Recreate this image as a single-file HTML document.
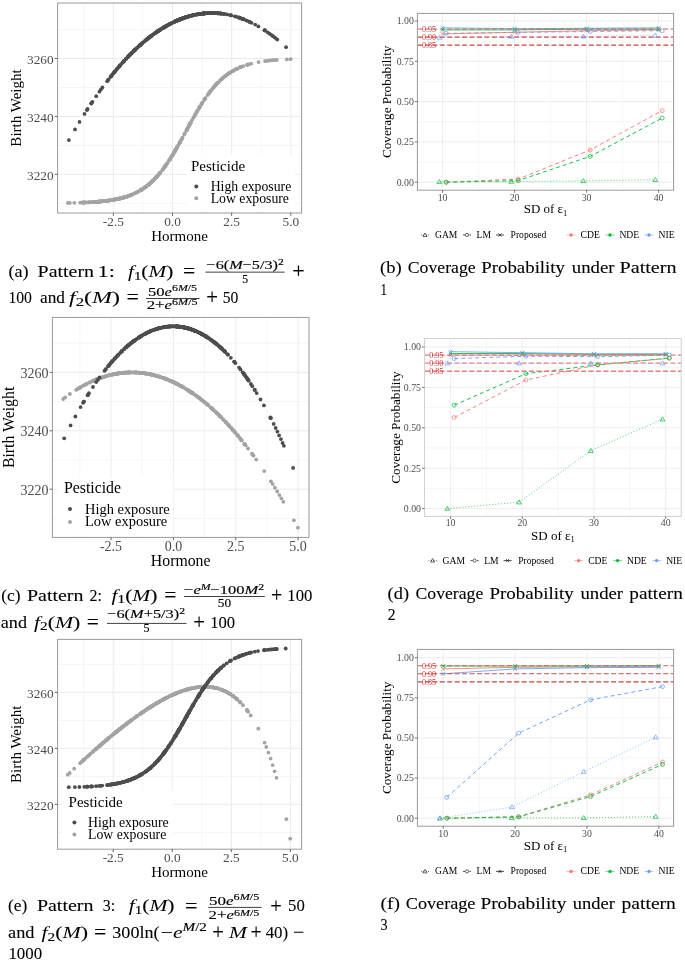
<!DOCTYPE html>
<html><head><meta charset="utf-8"><title>Figure</title><style>html,body{margin:0;padding:0;background:#fff;}svg{display:block;}</style></head><body>
<svg width="685" height="960" viewBox="0 0 685 960" font-family="'Liberation Serif', 'DejaVu Serif', serif">
<rect width="685" height="960" fill="#fff"/>
<g>
<line x1="83.78" y1="3" x2="83.78" y2="213" stroke="#f2f2f2" stroke-width="0.8"/>
<line x1="142.93" y1="3" x2="142.93" y2="213" stroke="#f2f2f2" stroke-width="0.8"/>
<line x1="202.07" y1="3" x2="202.07" y2="213" stroke="#f2f2f2" stroke-width="0.8"/>
<line x1="261.23" y1="3" x2="261.23" y2="213" stroke="#f2f2f2" stroke-width="0.8"/>
<line x1="57.6" y1="203.3" x2="301.6" y2="203.3" stroke="#f2f2f2" stroke-width="0.8"/>
<line x1="57.6" y1="145.38" x2="301.6" y2="145.38" stroke="#f2f2f2" stroke-width="0.8"/>
<line x1="57.6" y1="87.46" x2="301.6" y2="87.46" stroke="#f2f2f2" stroke-width="0.8"/>
<line x1="57.6" y1="29.54" x2="301.6" y2="29.54" stroke="#f2f2f2" stroke-width="0.8"/>
<line x1="113.35" y1="3" x2="113.35" y2="213" stroke="#ebebeb" stroke-width="1"/>
<line x1="172.5" y1="3" x2="172.5" y2="213" stroke="#ebebeb" stroke-width="1"/>
<line x1="231.65" y1="3" x2="231.65" y2="213" stroke="#ebebeb" stroke-width="1"/>
<line x1="290.8" y1="3" x2="290.8" y2="213" stroke="#ebebeb" stroke-width="1"/>
<line x1="57.6" y1="174.34" x2="301.6" y2="174.34" stroke="#ebebeb" stroke-width="1"/>
<line x1="57.6" y1="116.42" x2="301.6" y2="116.42" stroke="#ebebeb" stroke-width="1"/>
<line x1="57.6" y1="58.5" x2="301.6" y2="58.5" stroke="#ebebeb" stroke-width="1"/>
<rect x="187" y="155" width="108" height="56" fill="#fff"/>
<g fill="#a3a3a3"><circle cx="67.9" cy="202.9" r="1.9"/><circle cx="69.8" cy="202.9" r="1.9"/><circle cx="74.3" cy="202.8" r="1.9"/><circle cx="202.3" cy="102.8" r="1.9"/><circle cx="210.2" cy="91.5" r="1.9"/><circle cx="168.7" cy="161.1" r="1.9"/><circle cx="243.3" cy="66.1" r="1.9"/><circle cx="127.4" cy="196.3" r="1.9"/><circle cx="181.7" cy="139.1" r="1.9"/><circle cx="96.7" cy="201.8" r="1.9"/><circle cx="169.7" cy="159.6" r="1.9"/><circle cx="150.1" cy="183.3" r="1.9"/><circle cx="131.7" cy="194.7" r="1.9"/><circle cx="248.0" cy="64.5" r="1.9"/><circle cx="149.4" cy="183.9" r="1.9"/><circle cx="140.3" cy="190.4" r="1.9"/><circle cx="109.0" cy="200.5" r="1.9"/><circle cx="106.4" cy="200.8" r="1.9"/><circle cx="247.2" cy="64.8" r="1.9"/><circle cx="172.7" cy="154.8" r="1.9"/><circle cx="221.7" cy="79.0" r="1.9"/><circle cx="83.8" cy="202.5" r="1.9"/><circle cx="175.4" cy="150.2" r="1.9"/><circle cx="152.4" cy="181.2" r="1.9"/><circle cx="146.4" cy="186.3" r="1.9"/><circle cx="190.0" cy="123.9" r="1.9"/><circle cx="95.8" cy="201.8" r="1.9"/><circle cx="127.3" cy="196.4" r="1.9"/><circle cx="128.7" cy="195.8" r="1.9"/><circle cx="156.0" cy="177.5" r="1.9"/><circle cx="140.8" cy="190.1" r="1.9"/><circle cx="199.8" cy="106.8" r="1.9"/><circle cx="159.1" cy="174.0" r="1.9"/><circle cx="201.2" cy="104.6" r="1.9"/><circle cx="108.9" cy="200.5" r="1.9"/><circle cx="172.7" cy="154.8" r="1.9"/><circle cx="190.0" cy="123.9" r="1.9"/><circle cx="186.7" cy="129.9" r="1.9"/><circle cx="89.8" cy="202.2" r="1.9"/><circle cx="118.0" cy="198.9" r="1.9"/><circle cx="176.6" cy="148.1" r="1.9"/><circle cx="132.1" cy="194.5" r="1.9"/><circle cx="156.4" cy="177.1" r="1.9"/><circle cx="222.2" cy="78.6" r="1.9"/><circle cx="215.6" cy="85.0" r="1.9"/><circle cx="80.2" cy="202.6" r="1.9"/><circle cx="164.3" cy="167.3" r="1.9"/><circle cx="230.5" cy="72.3" r="1.9"/><circle cx="143.2" cy="188.6" r="1.9"/><circle cx="159.0" cy="174.1" r="1.9"/><circle cx="145.9" cy="186.7" r="1.9"/><circle cx="205.2" cy="98.5" r="1.9"/><circle cx="154.9" cy="178.7" r="1.9"/><circle cx="224.5" cy="76.6" r="1.9"/><circle cx="120.3" cy="198.3" r="1.9"/><circle cx="151.6" cy="181.9" r="1.9"/><circle cx="152.2" cy="181.3" r="1.9"/><circle cx="179.7" cy="142.7" r="1.9"/><circle cx="162.5" cy="169.8" r="1.9"/><circle cx="130.0" cy="195.4" r="1.9"/><circle cx="214.6" cy="86.2" r="1.9"/><circle cx="164.1" cy="167.7" r="1.9"/><circle cx="125.9" cy="196.8" r="1.9"/><circle cx="215.4" cy="85.3" r="1.9"/><circle cx="248.4" cy="64.4" r="1.9"/><circle cx="87.0" cy="202.4" r="1.9"/><circle cx="121.6" cy="198.0" r="1.9"/><circle cx="169.8" cy="159.4" r="1.9"/><circle cx="146.5" cy="186.2" r="1.9"/><circle cx="217.3" cy="83.3" r="1.9"/><circle cx="152.6" cy="181.0" r="1.9"/><circle cx="163.1" cy="169.0" r="1.9"/><circle cx="160.3" cy="172.6" r="1.9"/><circle cx="216.9" cy="83.6" r="1.9"/><circle cx="154.6" cy="179.0" r="1.9"/><circle cx="173.5" cy="153.3" r="1.9"/><circle cx="100.8" cy="201.4" r="1.9"/><circle cx="197.6" cy="110.5" r="1.9"/><circle cx="99.3" cy="201.6" r="1.9"/><circle cx="85.1" cy="202.4" r="1.9"/><circle cx="181.4" cy="139.6" r="1.9"/><circle cx="103.2" cy="201.2" r="1.9"/><circle cx="186.8" cy="129.7" r="1.9"/><circle cx="141.9" cy="189.5" r="1.9"/><circle cx="213.9" cy="87.0" r="1.9"/><circle cx="99.8" cy="201.5" r="1.9"/><circle cx="119.6" cy="198.5" r="1.9"/><circle cx="159.9" cy="173.0" r="1.9"/><circle cx="204.3" cy="99.8" r="1.9"/><circle cx="96.3" cy="201.8" r="1.9"/><circle cx="247.2" cy="64.8" r="1.9"/><circle cx="174.2" cy="152.2" r="1.9"/><circle cx="150.8" cy="182.6" r="1.9"/><circle cx="179.5" cy="143.0" r="1.9"/><circle cx="237.1" cy="68.7" r="1.9"/><circle cx="123.4" cy="197.5" r="1.9"/><circle cx="114.9" cy="199.5" r="1.9"/><circle cx="137.3" cy="192.1" r="1.9"/><circle cx="95.3" cy="201.9" r="1.9"/><circle cx="135.0" cy="193.2" r="1.9"/><circle cx="164.7" cy="166.9" r="1.9"/><circle cx="116.3" cy="199.2" r="1.9"/><circle cx="236.9" cy="68.8" r="1.9"/><circle cx="220.2" cy="80.4" r="1.9"/><circle cx="139.7" cy="190.8" r="1.9"/><circle cx="231.3" cy="71.8" r="1.9"/><circle cx="110.7" cy="200.2" r="1.9"/><circle cx="140.8" cy="190.1" r="1.9"/><circle cx="210.1" cy="91.7" r="1.9"/><circle cx="195.0" cy="115.0" r="1.9"/><circle cx="99.6" cy="201.5" r="1.9"/><circle cx="117.5" cy="199.0" r="1.9"/><circle cx="170.1" cy="158.9" r="1.9"/><circle cx="212.6" cy="88.5" r="1.9"/><circle cx="160.5" cy="172.3" r="1.9"/><circle cx="176.1" cy="149.0" r="1.9"/><circle cx="84.4" cy="202.5" r="1.9"/><circle cx="123.5" cy="197.5" r="1.9"/><circle cx="176.7" cy="147.9" r="1.9"/><circle cx="108.5" cy="200.5" r="1.9"/><circle cx="106.3" cy="200.8" r="1.9"/><circle cx="105.5" cy="200.9" r="1.9"/><circle cx="182.5" cy="137.7" r="1.9"/><circle cx="251.1" cy="63.7" r="1.9"/><circle cx="190.4" cy="123.2" r="1.9"/><circle cx="120.2" cy="198.4" r="1.9"/><circle cx="188.0" cy="127.5" r="1.9"/><circle cx="169.3" cy="160.0" r="1.9"/><circle cx="103.6" cy="201.1" r="1.9"/><circle cx="131.4" cy="194.8" r="1.9"/><circle cx="100.8" cy="201.4" r="1.9"/><circle cx="126.1" cy="196.7" r="1.9"/><circle cx="142.4" cy="189.1" r="1.9"/><circle cx="148.0" cy="185.1" r="1.9"/><circle cx="92.7" cy="202.0" r="1.9"/><circle cx="136.9" cy="192.3" r="1.9"/><circle cx="122.2" cy="197.9" r="1.9"/><circle cx="116.6" cy="199.2" r="1.9"/><circle cx="115.0" cy="199.5" r="1.9"/><circle cx="190.2" cy="123.6" r="1.9"/><circle cx="158.0" cy="175.3" r="1.9"/><circle cx="163.4" cy="168.6" r="1.9"/><circle cx="103.9" cy="201.1" r="1.9"/><circle cx="129.5" cy="195.6" r="1.9"/><circle cx="90.6" cy="202.2" r="1.9"/><circle cx="112.9" cy="199.9" r="1.9"/><circle cx="136.2" cy="192.7" r="1.9"/><circle cx="142.7" cy="188.9" r="1.9"/><circle cx="165.7" cy="165.4" r="1.9"/><circle cx="207.6" cy="95.0" r="1.9"/><circle cx="83.3" cy="202.5" r="1.9"/><circle cx="83.8" cy="202.5" r="1.9"/><circle cx="174.8" cy="151.2" r="1.9"/><circle cx="140.7" cy="190.2" r="1.9"/><circle cx="196.8" cy="111.8" r="1.9"/><circle cx="157.6" cy="175.8" r="1.9"/><circle cx="123.8" cy="197.4" r="1.9"/><circle cx="193.6" cy="117.4" r="1.9"/><circle cx="100.7" cy="201.4" r="1.9"/><circle cx="156.0" cy="177.5" r="1.9"/><circle cx="217.3" cy="83.2" r="1.9"/><circle cx="233.0" cy="70.8" r="1.9"/><circle cx="123.8" cy="197.4" r="1.9"/><circle cx="175.3" cy="150.4" r="1.9"/><circle cx="153.1" cy="180.5" r="1.9"/><circle cx="201.6" cy="103.9" r="1.9"/><circle cx="118.7" cy="198.7" r="1.9"/><circle cx="192.3" cy="119.7" r="1.9"/><circle cx="167.3" cy="163.1" r="1.9"/><circle cx="208.7" cy="93.6" r="1.9"/><circle cx="141.1" cy="189.9" r="1.9"/><circle cx="202.4" cy="102.7" r="1.9"/><circle cx="129.5" cy="195.6" r="1.9"/><circle cx="208.9" cy="93.2" r="1.9"/><circle cx="204.4" cy="99.6" r="1.9"/><circle cx="122.5" cy="197.8" r="1.9"/><circle cx="171.8" cy="156.1" r="1.9"/><circle cx="237.3" cy="68.6" r="1.9"/><circle cx="186.7" cy="130.0" r="1.9"/><circle cx="113.5" cy="199.7" r="1.9"/><circle cx="103.8" cy="201.1" r="1.9"/><circle cx="126.0" cy="196.8" r="1.9"/><circle cx="225.1" cy="76.2" r="1.9"/><circle cx="197.5" cy="110.6" r="1.9"/><circle cx="217.0" cy="83.6" r="1.9"/><circle cx="199.1" cy="108.0" r="1.9"/><circle cx="165.0" cy="166.5" r="1.9"/><circle cx="223.2" cy="77.7" r="1.9"/><circle cx="141.9" cy="189.4" r="1.9"/><circle cx="132.0" cy="194.6" r="1.9"/><circle cx="177.2" cy="147.0" r="1.9"/><circle cx="157.3" cy="176.1" r="1.9"/><circle cx="186.4" cy="130.5" r="1.9"/><circle cx="227.7" cy="74.2" r="1.9"/><circle cx="116.4" cy="199.2" r="1.9"/><circle cx="172.8" cy="154.5" r="1.9"/><circle cx="165.5" cy="165.7" r="1.9"/><circle cx="124.7" cy="197.2" r="1.9"/><circle cx="171.3" cy="157.0" r="1.9"/><circle cx="228.9" cy="73.4" r="1.9"/><circle cx="230.3" cy="72.5" r="1.9"/><circle cx="189.6" cy="124.6" r="1.9"/><circle cx="166.9" cy="163.8" r="1.9"/><circle cx="99.5" cy="201.5" r="1.9"/><circle cx="130.8" cy="195.0" r="1.9"/><circle cx="143.2" cy="188.6" r="1.9"/><circle cx="153.5" cy="180.1" r="1.9"/><circle cx="145.2" cy="187.2" r="1.9"/><circle cx="102.6" cy="201.2" r="1.9"/><circle cx="187.1" cy="129.2" r="1.9"/><circle cx="172.2" cy="155.6" r="1.9"/><circle cx="97.7" cy="201.7" r="1.9"/><circle cx="235.2" cy="69.6" r="1.9"/><circle cx="184.8" cy="133.3" r="1.9"/><circle cx="130.5" cy="195.2" r="1.9"/><circle cx="149.5" cy="183.8" r="1.9"/><circle cx="137.1" cy="192.2" r="1.9"/><circle cx="120.0" cy="198.4" r="1.9"/><circle cx="196.4" cy="112.5" r="1.9"/><circle cx="159.8" cy="173.2" r="1.9"/><circle cx="120.6" cy="198.3" r="1.9"/><circle cx="209.0" cy="93.2" r="1.9"/><circle cx="88.4" cy="202.3" r="1.9"/><circle cx="233.9" cy="70.3" r="1.9"/><circle cx="134.3" cy="193.6" r="1.9"/><circle cx="225.9" cy="75.5" r="1.9"/><circle cx="187.4" cy="128.7" r="1.9"/><circle cx="120.0" cy="198.4" r="1.9"/><circle cx="93.6" cy="202.0" r="1.9"/><circle cx="180.1" cy="141.9" r="1.9"/><circle cx="225.0" cy="76.2" r="1.9"/><circle cx="180.2" cy="141.8" r="1.9"/><circle cx="204.5" cy="99.5" r="1.9"/><circle cx="140.5" cy="190.3" r="1.9"/><circle cx="179.5" cy="142.9" r="1.9"/><circle cx="239.9" cy="67.4" r="1.9"/><circle cx="81.6" cy="202.6" r="1.9"/><circle cx="215.7" cy="85.0" r="1.9"/><circle cx="149.8" cy="183.5" r="1.9"/><circle cx="217.7" cy="82.8" r="1.9"/><circle cx="236.1" cy="69.2" r="1.9"/><circle cx="212.5" cy="88.7" r="1.9"/><circle cx="128.1" cy="196.1" r="1.9"/><circle cx="148.2" cy="184.9" r="1.9"/><circle cx="108.1" cy="200.6" r="1.9"/><circle cx="205.5" cy="98.1" r="1.9"/><circle cx="116.8" cy="199.1" r="1.9"/><circle cx="143.7" cy="188.2" r="1.9"/><circle cx="111.0" cy="200.2" r="1.9"/><circle cx="195.6" cy="113.9" r="1.9"/><circle cx="145.2" cy="187.2" r="1.9"/><circle cx="114.9" cy="199.5" r="1.9"/><circle cx="172.3" cy="155.3" r="1.9"/><circle cx="101.9" cy="201.3" r="1.9"/><circle cx="188.8" cy="126.1" r="1.9"/><circle cx="99.7" cy="201.5" r="1.9"/><circle cx="215.4" cy="85.3" r="1.9"/><circle cx="189.0" cy="125.6" r="1.9"/><circle cx="96.5" cy="201.8" r="1.9"/><circle cx="219.5" cy="81.0" r="1.9"/><circle cx="117.7" cy="198.9" r="1.9"/><circle cx="175.6" cy="149.8" r="1.9"/><circle cx="239.9" cy="67.4" r="1.9"/><circle cx="103.5" cy="201.1" r="1.9"/><circle cx="140.8" cy="190.1" r="1.9"/><circle cx="166.3" cy="164.6" r="1.9"/><circle cx="100.2" cy="201.5" r="1.9"/><circle cx="150.0" cy="183.3" r="1.9"/><circle cx="122.1" cy="197.9" r="1.9"/><circle cx="151.8" cy="181.8" r="1.9"/><circle cx="184.2" cy="134.5" r="1.9"/><circle cx="227.4" cy="74.5" r="1.9"/><circle cx="114.3" cy="199.6" r="1.9"/><circle cx="211.0" cy="90.5" r="1.9"/><circle cx="191.1" cy="122.0" r="1.9"/><circle cx="162.6" cy="169.7" r="1.9"/><circle cx="108.0" cy="200.6" r="1.9"/><circle cx="106.5" cy="200.8" r="1.9"/><circle cx="233.4" cy="70.6" r="1.9"/><circle cx="176.3" cy="148.6" r="1.9"/><circle cx="149.4" cy="183.8" r="1.9"/><circle cx="175.7" cy="149.7" r="1.9"/><circle cx="240.3" cy="67.2" r="1.9"/><circle cx="181.6" cy="139.3" r="1.9"/><circle cx="179.8" cy="142.5" r="1.9"/><circle cx="153.3" cy="180.3" r="1.9"/><circle cx="108.2" cy="200.6" r="1.9"/><circle cx="241.0" cy="67.0" r="1.9"/><circle cx="170.6" cy="158.1" r="1.9"/><circle cx="151.4" cy="182.1" r="1.9"/><circle cx="229.1" cy="73.2" r="1.9"/><circle cx="213.7" cy="87.2" r="1.9"/><circle cx="198.8" cy="108.4" r="1.9"/><circle cx="97.4" cy="201.7" r="1.9"/><circle cx="156.5" cy="177.0" r="1.9"/><circle cx="119.9" cy="198.5" r="1.9"/><circle cx="157.5" cy="175.9" r="1.9"/><circle cx="229.0" cy="73.3" r="1.9"/><circle cx="165.1" cy="166.2" r="1.9"/><circle cx="188.8" cy="126.0" r="1.9"/><circle cx="177.0" cy="147.4" r="1.9"/><circle cx="199.8" cy="106.7" r="1.9"/><circle cx="88.9" cy="202.3" r="1.9"/><circle cx="122.5" cy="197.8" r="1.9"/><circle cx="93.4" cy="202.0" r="1.9"/><circle cx="194.5" cy="115.9" r="1.9"/><circle cx="137.4" cy="192.0" r="1.9"/><circle cx="174.5" cy="151.7" r="1.9"/><circle cx="174.9" cy="151.0" r="1.9"/><circle cx="113.3" cy="199.8" r="1.9"/><circle cx="222.2" cy="78.6" r="1.9"/><circle cx="83.1" cy="202.5" r="1.9"/><circle cx="122.0" cy="197.9" r="1.9"/><circle cx="190.4" cy="123.2" r="1.9"/><circle cx="165.2" cy="166.2" r="1.9"/><circle cx="233.3" cy="70.7" r="1.9"/><circle cx="144.7" cy="187.5" r="1.9"/><circle cx="98.7" cy="201.6" r="1.9"/><circle cx="147.4" cy="185.5" r="1.9"/><circle cx="126.1" cy="196.7" r="1.9"/><circle cx="217.4" cy="83.2" r="1.9"/><circle cx="116.9" cy="199.1" r="1.9"/><circle cx="178.1" cy="145.5" r="1.9"/><circle cx="258.6" cy="62.1" r="1.9"/><circle cx="265.0" cy="61.1" r="1.9"/><circle cx="266.7" cy="60.9" r="1.9"/><circle cx="268.8" cy="60.7" r="1.9"/><circle cx="270.9" cy="60.4" r="1.9"/><circle cx="273.1" cy="60.2" r="1.9"/><circle cx="274.9" cy="60.1" r="1.9"/><circle cx="276.8" cy="59.9" r="1.9"/><circle cx="286.8" cy="59.4" r="1.9"/><circle cx="290.6" cy="59.2" r="1.9"/></g>
<g fill="#4d4d4d"><circle cx="68.9" cy="140.1" r="1.9"/><circle cx="75.0" cy="129.4" r="1.9"/><circle cx="79.5" cy="121.9" r="1.9"/><circle cx="84.5" cy="113.9" r="1.9"/><circle cx="126.1" cy="58.8" r="1.9"/><circle cx="113.6" cy="73.1" r="1.9"/><circle cx="124.0" cy="61.1" r="1.9"/><circle cx="160.6" cy="29.4" r="1.9"/><circle cx="217.9" cy="13.3" r="1.9"/><circle cx="175.8" cy="21.1" r="1.9"/><circle cx="241.9" cy="18.6" r="1.9"/><circle cx="140.3" cy="44.9" r="1.9"/><circle cx="134.4" cy="50.3" r="1.9"/><circle cx="213.6" cy="13.0" r="1.9"/><circle cx="177.5" cy="20.4" r="1.9"/><circle cx="130.8" cy="53.9" r="1.9"/><circle cx="127.5" cy="57.3" r="1.9"/><circle cx="175.0" cy="21.5" r="1.9"/><circle cx="185.2" cy="17.5" r="1.9"/><circle cx="189.4" cy="16.2" r="1.9"/><circle cx="200.5" cy="13.8" r="1.9"/><circle cx="148.8" cy="37.7" r="1.9"/><circle cx="192.7" cy="15.3" r="1.9"/><circle cx="134.6" cy="50.1" r="1.9"/><circle cx="246.1" cy="20.3" r="1.9"/><circle cx="243.1" cy="19.1" r="1.9"/><circle cx="123.8" cy="61.2" r="1.9"/><circle cx="203.4" cy="13.5" r="1.9"/><circle cx="185.9" cy="17.2" r="1.9"/><circle cx="145.6" cy="40.3" r="1.9"/><circle cx="206.5" cy="13.2" r="1.9"/><circle cx="150.3" cy="36.6" r="1.9"/><circle cx="175.7" cy="21.2" r="1.9"/><circle cx="204.1" cy="13.4" r="1.9"/><circle cx="181.9" cy="18.6" r="1.9"/><circle cx="165.0" cy="26.7" r="1.9"/><circle cx="179.5" cy="19.6" r="1.9"/><circle cx="192.3" cy="15.4" r="1.9"/><circle cx="180.3" cy="19.2" r="1.9"/><circle cx="158.8" cy="30.6" r="1.9"/><circle cx="185.0" cy="17.5" r="1.9"/><circle cx="213.0" cy="13.0" r="1.9"/><circle cx="220.7" cy="13.5" r="1.9"/><circle cx="120.2" cy="65.2" r="1.9"/><circle cx="211.2" cy="13.0" r="1.9"/><circle cx="140.6" cy="44.7" r="1.9"/><circle cx="147.5" cy="38.8" r="1.9"/><circle cx="238.3" cy="17.3" r="1.9"/><circle cx="136.8" cy="48.1" r="1.9"/><circle cx="158.2" cy="31.0" r="1.9"/><circle cx="210.4" cy="13.0" r="1.9"/><circle cx="197.9" cy="14.3" r="1.9"/><circle cx="110.9" cy="76.4" r="1.9"/><circle cx="264.5" cy="30.2" r="1.9"/><circle cx="201.9" cy="13.7" r="1.9"/><circle cx="182.7" cy="18.3" r="1.9"/><circle cx="179.0" cy="19.7" r="1.9"/><circle cx="130.6" cy="54.1" r="1.9"/><circle cx="133.7" cy="51.0" r="1.9"/><circle cx="108.1" cy="80.0" r="1.9"/><circle cx="176.4" cy="20.9" r="1.9"/><circle cx="168.8" cy="24.6" r="1.9"/><circle cx="230.1" cy="15.1" r="1.9"/><circle cx="241.0" cy="18.3" r="1.9"/><circle cx="183.8" cy="18.0" r="1.9"/><circle cx="176.9" cy="20.7" r="1.9"/><circle cx="216.6" cy="13.2" r="1.9"/><circle cx="224.2" cy="14.0" r="1.9"/><circle cx="189.3" cy="16.2" r="1.9"/><circle cx="155.6" cy="32.7" r="1.9"/><circle cx="242.3" cy="18.8" r="1.9"/><circle cx="111.4" cy="75.8" r="1.9"/><circle cx="175.5" cy="21.3" r="1.9"/><circle cx="264.8" cy="30.4" r="1.9"/><circle cx="200.0" cy="13.9" r="1.9"/><circle cx="187.4" cy="16.8" r="1.9"/><circle cx="130.3" cy="54.4" r="1.9"/><circle cx="122.1" cy="63.1" r="1.9"/><circle cx="141.2" cy="44.1" r="1.9"/><circle cx="142.8" cy="42.7" r="1.9"/><circle cx="136.5" cy="48.3" r="1.9"/><circle cx="135.2" cy="49.6" r="1.9"/><circle cx="100.8" cy="89.7" r="1.9"/><circle cx="187.4" cy="16.8" r="1.9"/><circle cx="125.7" cy="59.2" r="1.9"/><circle cx="201.9" cy="13.7" r="1.9"/><circle cx="156.7" cy="32.0" r="1.9"/><circle cx="128.3" cy="56.4" r="1.9"/><circle cx="247.4" cy="20.8" r="1.9"/><circle cx="207.5" cy="13.2" r="1.9"/><circle cx="155.5" cy="32.8" r="1.9"/><circle cx="205.3" cy="13.3" r="1.9"/><circle cx="211.7" cy="13.0" r="1.9"/><circle cx="131.4" cy="53.3" r="1.9"/><circle cx="144.3" cy="41.4" r="1.9"/><circle cx="182.1" cy="18.6" r="1.9"/><circle cx="218.0" cy="13.3" r="1.9"/><circle cx="164.8" cy="26.8" r="1.9"/><circle cx="239.2" cy="17.6" r="1.9"/><circle cx="172.3" cy="22.8" r="1.9"/><circle cx="214.2" cy="13.1" r="1.9"/><circle cx="150.9" cy="36.2" r="1.9"/><circle cx="163.5" cy="27.6" r="1.9"/><circle cx="171.3" cy="23.3" r="1.9"/><circle cx="187.0" cy="16.9" r="1.9"/><circle cx="211.9" cy="13.0" r="1.9"/><circle cx="208.0" cy="13.1" r="1.9"/><circle cx="86.9" cy="110.1" r="1.9"/><circle cx="193.7" cy="15.1" r="1.9"/><circle cx="157.2" cy="31.6" r="1.9"/><circle cx="129.5" cy="55.2" r="1.9"/><circle cx="141.6" cy="43.8" r="1.9"/><circle cx="227.0" cy="14.4" r="1.9"/><circle cx="239.4" cy="17.7" r="1.9"/><circle cx="127.9" cy="56.9" r="1.9"/><circle cx="175.6" cy="21.2" r="1.9"/><circle cx="189.4" cy="16.2" r="1.9"/><circle cx="140.5" cy="44.7" r="1.9"/><circle cx="129.0" cy="55.8" r="1.9"/><circle cx="199.4" cy="14.0" r="1.9"/><circle cx="164.5" cy="27.0" r="1.9"/><circle cx="183.6" cy="18.0" r="1.9"/><circle cx="150.8" cy="36.2" r="1.9"/><circle cx="137.9" cy="47.1" r="1.9"/><circle cx="134.8" cy="50.0" r="1.9"/><circle cx="223.9" cy="13.9" r="1.9"/><circle cx="112.7" cy="74.1" r="1.9"/><circle cx="135.0" cy="49.8" r="1.9"/><circle cx="164.2" cy="27.2" r="1.9"/><circle cx="146.9" cy="39.3" r="1.9"/><circle cx="139.6" cy="45.5" r="1.9"/><circle cx="87.5" cy="109.1" r="1.9"/><circle cx="96.2" cy="96.2" r="1.9"/><circle cx="119.7" cy="65.8" r="1.9"/><circle cx="161.5" cy="28.8" r="1.9"/><circle cx="182.7" cy="18.3" r="1.9"/><circle cx="184.5" cy="17.7" r="1.9"/><circle cx="175.4" cy="21.3" r="1.9"/><circle cx="198.3" cy="14.2" r="1.9"/><circle cx="251.5" cy="22.8" r="1.9"/><circle cx="186.5" cy="17.0" r="1.9"/><circle cx="166.7" cy="25.7" r="1.9"/><circle cx="129.4" cy="55.3" r="1.9"/><circle cx="92.4" cy="101.8" r="1.9"/><circle cx="150.7" cy="36.3" r="1.9"/><circle cx="150.5" cy="36.5" r="1.9"/><circle cx="219.9" cy="13.4" r="1.9"/><circle cx="190.2" cy="16.0" r="1.9"/><circle cx="160.1" cy="29.7" r="1.9"/><circle cx="249.7" cy="21.9" r="1.9"/><circle cx="218.4" cy="13.3" r="1.9"/><circle cx="87.5" cy="109.1" r="1.9"/><circle cx="179.4" cy="19.6" r="1.9"/><circle cx="183.9" cy="17.9" r="1.9"/><circle cx="147.1" cy="39.1" r="1.9"/><circle cx="165.8" cy="26.3" r="1.9"/><circle cx="243.9" cy="19.4" r="1.9"/><circle cx="203.5" cy="13.5" r="1.9"/><circle cx="118.3" cy="67.5" r="1.9"/><circle cx="169.5" cy="24.2" r="1.9"/><circle cx="163.4" cy="27.6" r="1.9"/><circle cx="182.3" cy="18.5" r="1.9"/><circle cx="193.4" cy="15.2" r="1.9"/><circle cx="193.2" cy="15.2" r="1.9"/><circle cx="159.8" cy="29.9" r="1.9"/><circle cx="188.1" cy="16.6" r="1.9"/><circle cx="188.9" cy="16.3" r="1.9"/><circle cx="108.6" cy="79.4" r="1.9"/><circle cx="239.3" cy="17.7" r="1.9"/><circle cx="114.4" cy="72.1" r="1.9"/><circle cx="236.2" cy="16.7" r="1.9"/><circle cx="218.3" cy="13.3" r="1.9"/><circle cx="164.2" cy="27.2" r="1.9"/><circle cx="221.2" cy="13.6" r="1.9"/><circle cx="178.5" cy="20.0" r="1.9"/><circle cx="217.9" cy="13.3" r="1.9"/><circle cx="110.6" cy="76.8" r="1.9"/><circle cx="193.7" cy="15.1" r="1.9"/><circle cx="119.4" cy="66.2" r="1.9"/><circle cx="243.2" cy="19.1" r="1.9"/><circle cx="102.4" cy="87.5" r="1.9"/><circle cx="202.6" cy="13.6" r="1.9"/><circle cx="191.3" cy="15.7" r="1.9"/><circle cx="196.4" cy="14.5" r="1.9"/><circle cx="166.8" cy="25.7" r="1.9"/><circle cx="216.8" cy="13.2" r="1.9"/><circle cx="192.8" cy="15.3" r="1.9"/><circle cx="181.5" cy="18.8" r="1.9"/><circle cx="116.2" cy="69.9" r="1.9"/><circle cx="149.0" cy="37.6" r="1.9"/><circle cx="178.0" cy="20.2" r="1.9"/><circle cx="133.6" cy="51.2" r="1.9"/><circle cx="132.3" cy="52.4" r="1.9"/><circle cx="153.4" cy="34.3" r="1.9"/><circle cx="243.3" cy="19.1" r="1.9"/><circle cx="188.9" cy="16.3" r="1.9"/><circle cx="186.7" cy="17.0" r="1.9"/><circle cx="185.8" cy="17.3" r="1.9"/><circle cx="178.1" cy="20.1" r="1.9"/><circle cx="139.4" cy="45.7" r="1.9"/><circle cx="209.0" cy="13.1" r="1.9"/><circle cx="139.8" cy="45.3" r="1.9"/><circle cx="153.1" cy="34.5" r="1.9"/><circle cx="158.2" cy="31.0" r="1.9"/><circle cx="199.7" cy="14.0" r="1.9"/><circle cx="173.3" cy="22.3" r="1.9"/><circle cx="116.9" cy="69.0" r="1.9"/><circle cx="204.4" cy="13.4" r="1.9"/><circle cx="205.4" cy="13.3" r="1.9"/><circle cx="162.8" cy="28.0" r="1.9"/><circle cx="199.2" cy="14.0" r="1.9"/><circle cx="177.1" cy="20.5" r="1.9"/><circle cx="230.5" cy="15.2" r="1.9"/><circle cx="231.3" cy="15.4" r="1.9"/><circle cx="213.7" cy="13.1" r="1.9"/><circle cx="197.8" cy="14.3" r="1.9"/><circle cx="249.5" cy="21.8" r="1.9"/><circle cx="240.5" cy="18.1" r="1.9"/><circle cx="162.9" cy="27.9" r="1.9"/><circle cx="182.7" cy="18.4" r="1.9"/><circle cx="135.3" cy="49.5" r="1.9"/><circle cx="99.4" cy="91.7" r="1.9"/><circle cx="157.6" cy="31.4" r="1.9"/><circle cx="199.0" cy="14.1" r="1.9"/><circle cx="150.7" cy="36.3" r="1.9"/><circle cx="168.2" cy="24.9" r="1.9"/><circle cx="219.0" cy="13.3" r="1.9"/><circle cx="157.0" cy="31.7" r="1.9"/><circle cx="111.9" cy="75.1" r="1.9"/><circle cx="179.6" cy="19.5" r="1.9"/><circle cx="148.2" cy="38.2" r="1.9"/><circle cx="165.5" cy="26.4" r="1.9"/><circle cx="159.3" cy="30.2" r="1.9"/><circle cx="220.9" cy="13.5" r="1.9"/><circle cx="213.8" cy="13.1" r="1.9"/><circle cx="191.2" cy="15.7" r="1.9"/><circle cx="180.0" cy="19.4" r="1.9"/><circle cx="119.4" cy="66.2" r="1.9"/><circle cx="130.1" cy="54.6" r="1.9"/><circle cx="264.8" cy="30.4" r="1.9"/><circle cx="123.4" cy="61.7" r="1.9"/><circle cx="158.2" cy="30.9" r="1.9"/><circle cx="154.8" cy="33.3" r="1.9"/><circle cx="179.3" cy="19.7" r="1.9"/><circle cx="131.9" cy="52.8" r="1.9"/><circle cx="223.9" cy="13.9" r="1.9"/><circle cx="145.4" cy="40.5" r="1.9"/><circle cx="189.7" cy="16.1" r="1.9"/><circle cx="175.6" cy="21.2" r="1.9"/><circle cx="187.0" cy="16.9" r="1.9"/><circle cx="139.6" cy="45.5" r="1.9"/><circle cx="203.8" cy="13.4" r="1.9"/><circle cx="188.6" cy="16.4" r="1.9"/><circle cx="151.8" cy="35.5" r="1.9"/><circle cx="264.7" cy="30.3" r="1.9"/><circle cx="178.9" cy="19.8" r="1.9"/><circle cx="155.3" cy="33.0" r="1.9"/><circle cx="175.6" cy="21.2" r="1.9"/><circle cx="140.3" cy="44.9" r="1.9"/><circle cx="135.7" cy="49.2" r="1.9"/><circle cx="171.0" cy="23.4" r="1.9"/><circle cx="114.9" cy="71.4" r="1.9"/><circle cx="141.6" cy="43.7" r="1.9"/><circle cx="211.8" cy="13.0" r="1.9"/><circle cx="178.0" cy="20.2" r="1.9"/><circle cx="211.7" cy="13.0" r="1.9"/><circle cx="178.5" cy="20.0" r="1.9"/><circle cx="200.2" cy="13.9" r="1.9"/><circle cx="203.7" cy="13.5" r="1.9"/><circle cx="215.6" cy="13.1" r="1.9"/><circle cx="127.5" cy="57.3" r="1.9"/><circle cx="221.7" cy="13.6" r="1.9"/><circle cx="234.8" cy="16.3" r="1.9"/><circle cx="195.6" cy="14.7" r="1.9"/><circle cx="117.3" cy="68.6" r="1.9"/><circle cx="164.0" cy="27.3" r="1.9"/><circle cx="204.0" cy="13.4" r="1.9"/><circle cx="168.5" cy="24.7" r="1.9"/><circle cx="182.8" cy="18.3" r="1.9"/><circle cx="192.9" cy="15.3" r="1.9"/><circle cx="114.3" cy="72.2" r="1.9"/><circle cx="149.1" cy="37.5" r="1.9"/><circle cx="91.4" cy="103.3" r="1.9"/><circle cx="128.7" cy="56.0" r="1.9"/><circle cx="123.7" cy="61.4" r="1.9"/><circle cx="175.5" cy="21.3" r="1.9"/><circle cx="180.8" cy="19.0" r="1.9"/><circle cx="142.4" cy="43.0" r="1.9"/><circle cx="177.7" cy="20.3" r="1.9"/><circle cx="174.3" cy="21.8" r="1.9"/><circle cx="216.3" cy="13.2" r="1.9"/><circle cx="169.7" cy="24.1" r="1.9"/><circle cx="134.0" cy="50.7" r="1.9"/><circle cx="210.0" cy="13.1" r="1.9"/><circle cx="171.0" cy="23.4" r="1.9"/><circle cx="123.0" cy="62.1" r="1.9"/><circle cx="111.4" cy="75.8" r="1.9"/><circle cx="166.4" cy="25.9" r="1.9"/><circle cx="255.2" cy="24.6" r="1.9"/><circle cx="197.7" cy="14.3" r="1.9"/><circle cx="179.8" cy="19.5" r="1.9"/><circle cx="211.2" cy="13.0" r="1.9"/><circle cx="203.9" cy="13.4" r="1.9"/><circle cx="187.4" cy="16.8" r="1.9"/><circle cx="203.1" cy="13.5" r="1.9"/><circle cx="107.2" cy="81.2" r="1.9"/><circle cx="178.8" cy="19.8" r="1.9"/><circle cx="146.2" cy="39.9" r="1.9"/><circle cx="165.0" cy="26.7" r="1.9"/><circle cx="159.9" cy="29.8" r="1.9"/><circle cx="185.6" cy="17.4" r="1.9"/><circle cx="120.5" cy="64.9" r="1.9"/><circle cx="132.3" cy="52.4" r="1.9"/><circle cx="198.7" cy="14.1" r="1.9"/><circle cx="194.7" cy="14.9" r="1.9"/><circle cx="204.9" cy="13.3" r="1.9"/><circle cx="180.1" cy="19.3" r="1.9"/><circle cx="183.4" cy="18.1" r="1.9"/><circle cx="208.3" cy="13.1" r="1.9"/><circle cx="146.6" cy="39.5" r="1.9"/><circle cx="159.1" cy="30.4" r="1.9"/><circle cx="186.5" cy="17.1" r="1.9"/><circle cx="174.4" cy="21.8" r="1.9"/><circle cx="150.0" cy="36.8" r="1.9"/><circle cx="182.5" cy="18.4" r="1.9"/><circle cx="187.1" cy="16.9" r="1.9"/><circle cx="169.0" cy="24.5" r="1.9"/><circle cx="114.6" cy="71.8" r="1.9"/><circle cx="91.2" cy="103.5" r="1.9"/><circle cx="190.6" cy="15.9" r="1.9"/><circle cx="258.4" cy="26.4" r="1.9"/><circle cx="163.5" cy="27.6" r="1.9"/><circle cx="183.2" cy="18.2" r="1.9"/><circle cx="176.0" cy="21.0" r="1.9"/><circle cx="267.6" cy="32.3" r="1.9"/><circle cx="269.5" cy="33.6" r="1.9"/><circle cx="271.2" cy="34.8" r="1.9"/><circle cx="272.8" cy="36.0" r="1.9"/><circle cx="274.5" cy="37.3" r="1.9"/><circle cx="276.1" cy="38.6" r="1.9"/><circle cx="277.3" cy="39.6" r="1.9"/><circle cx="286.1" cy="47.2" r="1.9"/></g>
<rect x="57.6" y="3" width="244" height="210" fill="none" stroke="#9a9a9a" stroke-width="1"/>
<line x1="113.35" y1="213" x2="113.35" y2="215.8" stroke="#555" stroke-width="0.9"/>
<text x="113.35" y="225.7" font-size="13.3" fill="#4d4d4d" text-anchor="middle">-2.5</text>
<line x1="172.5" y1="213" x2="172.5" y2="215.8" stroke="#555" stroke-width="0.9"/>
<text x="172.5" y="225.7" font-size="13.3" fill="#4d4d4d" text-anchor="middle">0.0</text>
<line x1="231.65" y1="213" x2="231.65" y2="215.8" stroke="#555" stroke-width="0.9"/>
<text x="231.65" y="225.7" font-size="13.3" fill="#4d4d4d" text-anchor="middle">2.5</text>
<line x1="290.8" y1="213" x2="290.8" y2="215.8" stroke="#555" stroke-width="0.9"/>
<text x="290.8" y="225.7" font-size="13.3" fill="#4d4d4d" text-anchor="middle">5.0</text>
<line x1="54.8" y1="174.34" x2="57.6" y2="174.34" stroke="#555" stroke-width="0.9"/>
<text x="53.6" y="179.66" font-size="13.3" fill="#4d4d4d" text-anchor="end">3220</text>
<line x1="54.8" y1="116.42" x2="57.6" y2="116.42" stroke="#555" stroke-width="0.9"/>
<text x="53.6" y="121.74" font-size="13.3" fill="#4d4d4d" text-anchor="end">3240</text>
<line x1="54.8" y1="58.5" x2="57.6" y2="58.5" stroke="#555" stroke-width="0.9"/>
<text x="53.6" y="63.82" font-size="13.3" fill="#4d4d4d" text-anchor="end">3260</text>
<text x="179.6" y="240.6" font-size="15" fill="#000" text-anchor="middle">Hormone</text>
<text x="0" y="0" font-size="15" fill="#000" text-anchor="middle" transform="translate(20.8,108) rotate(-90)">Birth Weight</text>
<text x="190.9" y="170.7" font-size="15" fill="#000">Pesticide</text>
<circle cx="196.3" cy="186.5" r="2" fill="#4d4d4d"/>
<circle cx="196.3" cy="198.3" r="2" fill="#a3a3a3"/>
<text x="210.7" y="190.7" font-size="13.75" fill="#000">High exposure</text>
<text x="210.7" y="202.8" font-size="13.75" fill="#000">Low exposure</text>
</g>
<g>
<line x1="79.88" y1="317.4" x2="79.88" y2="537.4" stroke="#f2f2f2" stroke-width="0.8"/>
<line x1="142.22" y1="317.4" x2="142.22" y2="537.4" stroke="#f2f2f2" stroke-width="0.8"/>
<line x1="204.58" y1="317.4" x2="204.58" y2="537.4" stroke="#f2f2f2" stroke-width="0.8"/>
<line x1="266.93" y1="317.4" x2="266.93" y2="537.4" stroke="#f2f2f2" stroke-width="0.8"/>
<line x1="52.4" y1="518.4" x2="309" y2="518.4" stroke="#f2f2f2" stroke-width="0.8"/>
<line x1="52.4" y1="460" x2="309" y2="460" stroke="#f2f2f2" stroke-width="0.8"/>
<line x1="52.4" y1="401.6" x2="309" y2="401.6" stroke="#f2f2f2" stroke-width="0.8"/>
<line x1="52.4" y1="343.2" x2="309" y2="343.2" stroke="#f2f2f2" stroke-width="0.8"/>
<line x1="111.05" y1="317.4" x2="111.05" y2="537.4" stroke="#ebebeb" stroke-width="1"/>
<line x1="173.4" y1="317.4" x2="173.4" y2="537.4" stroke="#ebebeb" stroke-width="1"/>
<line x1="235.75" y1="317.4" x2="235.75" y2="537.4" stroke="#ebebeb" stroke-width="1"/>
<line x1="298.1" y1="317.4" x2="298.1" y2="537.4" stroke="#ebebeb" stroke-width="1"/>
<line x1="52.4" y1="489.2" x2="309" y2="489.2" stroke="#ebebeb" stroke-width="1"/>
<line x1="52.4" y1="430.8" x2="309" y2="430.8" stroke="#ebebeb" stroke-width="1"/>
<line x1="52.4" y1="372.4" x2="309" y2="372.4" stroke="#ebebeb" stroke-width="1"/>
<rect x="57" y="477" width="116.4" height="59" fill="#fff"/>
<g fill="#a3a3a3"><circle cx="63.2" cy="399.0" r="1.9"/><circle cx="65.2" cy="397.4" r="1.9"/><circle cx="69.9" cy="394.0" r="1.9"/><circle cx="204.8" cy="402.4" r="1.9"/><circle cx="213.2" cy="409.7" r="1.9"/><circle cx="169.4" cy="380.3" r="1.9"/><circle cx="248.0" cy="448.5" r="1.9"/><circle cx="125.9" cy="372.6" r="1.9"/><circle cx="183.1" cy="387.2" r="1.9"/><circle cx="93.5" cy="380.7" r="1.9"/><circle cx="170.4" cy="380.8" r="1.9"/><circle cx="149.8" cy="374.2" r="1.9"/><circle cx="130.4" cy="372.4" r="1.9"/><circle cx="253.0" cy="455.1" r="1.9"/><circle cx="149.1" cy="374.1" r="1.9"/><circle cx="139.5" cy="372.7" r="1.9"/><circle cx="106.5" cy="376.0" r="1.9"/><circle cx="103.7" cy="376.9" r="1.9"/><circle cx="252.2" cy="454.0" r="1.9"/><circle cx="173.6" cy="382.2" r="1.9"/><circle cx="225.3" cy="421.6" r="1.9"/><circle cx="79.8" cy="387.6" r="1.9"/><circle cx="176.4" cy="383.6" r="1.9"/><circle cx="152.2" cy="374.7" r="1.9"/><circle cx="145.8" cy="373.5" r="1.9"/><circle cx="191.8" cy="392.7" r="1.9"/><circle cx="92.6" cy="381.1" r="1.9"/><circle cx="125.7" cy="372.6" r="1.9"/><circle cx="127.3" cy="372.5" r="1.9"/><circle cx="156.0" cy="375.7" r="1.9"/><circle cx="140.0" cy="372.8" r="1.9"/><circle cx="202.2" cy="400.3" r="1.9"/><circle cx="159.3" cy="376.7" r="1.9"/><circle cx="203.6" cy="401.4" r="1.9"/><circle cx="106.4" cy="376.0" r="1.9"/><circle cx="173.6" cy="382.2" r="1.9"/><circle cx="191.9" cy="392.7" r="1.9"/><circle cx="188.4" cy="390.4" r="1.9"/><circle cx="86.2" cy="384.1" r="1.9"/><circle cx="116.0" cy="373.8" r="1.9"/><circle cx="177.7" cy="384.3" r="1.9"/><circle cx="130.8" cy="372.4" r="1.9"/><circle cx="156.4" cy="375.8" r="1.9"/><circle cx="225.8" cy="422.1" r="1.9"/><circle cx="218.9" cy="415.1" r="1.9"/><circle cx="76.1" cy="389.9" r="1.9"/><circle cx="164.8" cy="378.5" r="1.9"/><circle cx="234.5" cy="431.8" r="1.9"/><circle cx="142.5" cy="373.0" r="1.9"/><circle cx="159.2" cy="376.6" r="1.9"/><circle cx="145.3" cy="373.4" r="1.9"/><circle cx="207.9" cy="405.0" r="1.9"/><circle cx="154.8" cy="375.4" r="1.9"/><circle cx="228.2" cy="424.7" r="1.9"/><circle cx="118.4" cy="373.4" r="1.9"/><circle cx="151.4" cy="374.6" r="1.9"/><circle cx="152.0" cy="374.7" r="1.9"/><circle cx="181.0" cy="386.0" r="1.9"/><circle cx="162.8" cy="377.8" r="1.9"/><circle cx="128.6" cy="372.5" r="1.9"/><circle cx="217.8" cy="414.0" r="1.9"/><circle cx="164.5" cy="378.4" r="1.9"/><circle cx="124.3" cy="372.7" r="1.9"/><circle cx="218.6" cy="414.8" r="1.9"/><circle cx="253.5" cy="455.7" r="1.9"/><circle cx="83.2" cy="385.7" r="1.9"/><circle cx="119.8" cy="373.2" r="1.9"/><circle cx="170.5" cy="380.8" r="1.9"/><circle cx="146.0" cy="373.5" r="1.9"/><circle cx="220.6" cy="416.8" r="1.9"/><circle cx="152.4" cy="374.8" r="1.9"/><circle cx="163.5" cy="378.0" r="1.9"/><circle cx="160.5" cy="377.0" r="1.9"/><circle cx="220.2" cy="416.4" r="1.9"/><circle cx="154.6" cy="375.3" r="1.9"/><circle cx="174.5" cy="382.7" r="1.9"/><circle cx="97.8" cy="378.9" r="1.9"/><circle cx="199.9" cy="398.5" r="1.9"/><circle cx="96.3" cy="379.5" r="1.9"/><circle cx="81.3" cy="386.8" r="1.9"/><circle cx="182.8" cy="387.0" r="1.9"/><circle cx="100.4" cy="378.0" r="1.9"/><circle cx="188.5" cy="390.5" r="1.9"/><circle cx="141.1" cy="372.9" r="1.9"/><circle cx="217.1" cy="413.3" r="1.9"/><circle cx="96.8" cy="379.3" r="1.9"/><circle cx="117.7" cy="373.5" r="1.9"/><circle cx="160.2" cy="376.9" r="1.9"/><circle cx="206.9" cy="404.1" r="1.9"/><circle cx="93.1" cy="380.9" r="1.9"/><circle cx="252.2" cy="454.0" r="1.9"/><circle cx="175.2" cy="383.0" r="1.9"/><circle cx="150.5" cy="374.4" r="1.9"/><circle cx="180.8" cy="385.9" r="1.9"/><circle cx="241.5" cy="440.2" r="1.9"/><circle cx="121.7" cy="373.0" r="1.9"/><circle cx="112.6" cy="374.5" r="1.9"/><circle cx="136.3" cy="372.5" r="1.9"/><circle cx="92.0" cy="381.3" r="1.9"/><circle cx="133.9" cy="372.4" r="1.9"/><circle cx="165.1" cy="378.6" r="1.9"/><circle cx="114.2" cy="374.2" r="1.9"/><circle cx="241.3" cy="439.9" r="1.9"/><circle cx="223.6" cy="419.9" r="1.9"/><circle cx="138.8" cy="372.7" r="1.9"/><circle cx="235.4" cy="432.8" r="1.9"/><circle cx="108.3" cy="375.5" r="1.9"/><circle cx="140.0" cy="372.8" r="1.9"/><circle cx="213.0" cy="409.5" r="1.9"/><circle cx="197.1" cy="396.4" r="1.9"/><circle cx="96.5" cy="379.4" r="1.9"/><circle cx="115.5" cy="373.9" r="1.9"/><circle cx="170.9" cy="381.0" r="1.9"/><circle cx="215.7" cy="412.0" r="1.9"/><circle cx="160.8" cy="377.1" r="1.9"/><circle cx="177.2" cy="384.0" r="1.9"/><circle cx="80.5" cy="387.2" r="1.9"/><circle cx="121.8" cy="373.0" r="1.9"/><circle cx="177.8" cy="384.3" r="1.9"/><circle cx="105.9" cy="376.2" r="1.9"/><circle cx="103.6" cy="376.9" r="1.9"/><circle cx="102.8" cy="377.2" r="1.9"/><circle cx="183.9" cy="387.7" r="1.9"/><circle cx="256.2" cy="459.6" r="1.9"/><circle cx="192.3" cy="393.0" r="1.9"/><circle cx="118.3" cy="373.4" r="1.9"/><circle cx="189.8" cy="391.3" r="1.9"/><circle cx="170.1" cy="380.6" r="1.9"/><circle cx="100.8" cy="377.8" r="1.9"/><circle cx="130.1" cy="372.4" r="1.9"/><circle cx="97.8" cy="378.9" r="1.9"/><circle cx="124.5" cy="372.7" r="1.9"/><circle cx="141.6" cy="372.9" r="1.9"/><circle cx="147.5" cy="373.8" r="1.9"/><circle cx="89.2" cy="382.6" r="1.9"/><circle cx="135.9" cy="372.5" r="1.9"/><circle cx="120.3" cy="373.1" r="1.9"/><circle cx="114.5" cy="374.1" r="1.9"/><circle cx="112.8" cy="374.4" r="1.9"/><circle cx="192.0" cy="392.8" r="1.9"/><circle cx="158.1" cy="376.3" r="1.9"/><circle cx="163.8" cy="378.2" r="1.9"/><circle cx="101.1" cy="377.7" r="1.9"/><circle cx="128.1" cy="372.5" r="1.9"/><circle cx="87.0" cy="383.7" r="1.9"/><circle cx="110.5" cy="375.0" r="1.9"/><circle cx="135.1" cy="372.5" r="1.9"/><circle cx="142.0" cy="373.0" r="1.9"/><circle cx="166.2" cy="379.1" r="1.9"/><circle cx="210.4" cy="407.2" r="1.9"/><circle cx="79.3" cy="387.9" r="1.9"/><circle cx="79.9" cy="387.6" r="1.9"/><circle cx="175.8" cy="383.3" r="1.9"/><circle cx="139.8" cy="372.8" r="1.9"/><circle cx="199.0" cy="397.8" r="1.9"/><circle cx="157.7" cy="376.2" r="1.9"/><circle cx="122.1" cy="372.9" r="1.9"/><circle cx="195.7" cy="395.3" r="1.9"/><circle cx="97.7" cy="378.9" r="1.9"/><circle cx="156.0" cy="375.7" r="1.9"/><circle cx="220.6" cy="416.8" r="1.9"/><circle cx="237.2" cy="434.9" r="1.9"/><circle cx="122.1" cy="372.9" r="1.9"/><circle cx="176.3" cy="383.6" r="1.9"/><circle cx="152.9" cy="374.9" r="1.9"/><circle cx="204.1" cy="401.8" r="1.9"/><circle cx="116.7" cy="373.7" r="1.9"/><circle cx="194.3" cy="394.4" r="1.9"/><circle cx="167.9" cy="379.7" r="1.9"/><circle cx="211.5" cy="408.2" r="1.9"/><circle cx="140.3" cy="372.8" r="1.9"/><circle cx="204.9" cy="402.5" r="1.9"/><circle cx="128.1" cy="372.5" r="1.9"/><circle cx="211.8" cy="408.4" r="1.9"/><circle cx="207.0" cy="404.2" r="1.9"/><circle cx="120.7" cy="373.1" r="1.9"/><circle cx="172.7" cy="381.8" r="1.9"/><circle cx="241.7" cy="440.4" r="1.9"/><circle cx="188.3" cy="390.4" r="1.9"/><circle cx="111.3" cy="374.8" r="1.9"/><circle cx="101.0" cy="377.7" r="1.9"/><circle cx="124.4" cy="372.7" r="1.9"/><circle cx="228.8" cy="425.4" r="1.9"/><circle cx="199.8" cy="398.4" r="1.9"/><circle cx="220.3" cy="416.4" r="1.9"/><circle cx="201.4" cy="399.7" r="1.9"/><circle cx="165.5" cy="378.8" r="1.9"/><circle cx="226.9" cy="423.3" r="1.9"/><circle cx="141.2" cy="372.9" r="1.9"/><circle cx="130.7" cy="372.4" r="1.9"/><circle cx="178.4" cy="384.6" r="1.9"/><circle cx="157.4" cy="376.1" r="1.9"/><circle cx="188.0" cy="390.2" r="1.9"/><circle cx="231.6" cy="428.5" r="1.9"/><circle cx="114.2" cy="374.1" r="1.9"/><circle cx="173.7" cy="382.3" r="1.9"/><circle cx="166.1" cy="379.0" r="1.9"/><circle cx="123.0" cy="372.8" r="1.9"/><circle cx="172.1" cy="381.5" r="1.9"/><circle cx="232.8" cy="429.8" r="1.9"/><circle cx="234.3" cy="431.5" r="1.9"/><circle cx="191.4" cy="392.4" r="1.9"/><circle cx="167.4" cy="379.5" r="1.9"/><circle cx="96.5" cy="379.4" r="1.9"/><circle cx="129.5" cy="372.4" r="1.9"/><circle cx="142.5" cy="373.0" r="1.9"/><circle cx="153.4" cy="375.0" r="1.9"/><circle cx="144.6" cy="373.3" r="1.9"/><circle cx="99.7" cy="378.2" r="1.9"/><circle cx="188.8" cy="390.7" r="1.9"/><circle cx="173.0" cy="382.0" r="1.9"/><circle cx="94.5" cy="380.2" r="1.9"/><circle cx="239.5" cy="437.7" r="1.9"/><circle cx="186.4" cy="389.2" r="1.9"/><circle cx="129.1" cy="372.4" r="1.9"/><circle cx="149.2" cy="374.1" r="1.9"/><circle cx="136.1" cy="372.5" r="1.9"/><circle cx="118.0" cy="373.5" r="1.9"/><circle cx="198.6" cy="397.5" r="1.9"/><circle cx="160.0" cy="376.9" r="1.9"/><circle cx="118.7" cy="373.4" r="1.9"/><circle cx="211.8" cy="408.5" r="1.9"/><circle cx="84.7" cy="384.9" r="1.9"/><circle cx="238.1" cy="436.0" r="1.9"/><circle cx="133.2" cy="372.4" r="1.9"/><circle cx="229.7" cy="426.4" r="1.9"/><circle cx="189.1" cy="390.9" r="1.9"/><circle cx="118.1" cy="373.5" r="1.9"/><circle cx="90.2" cy="382.2" r="1.9"/><circle cx="181.4" cy="386.2" r="1.9"/><circle cx="228.7" cy="425.3" r="1.9"/><circle cx="181.5" cy="386.3" r="1.9"/><circle cx="207.1" cy="404.3" r="1.9"/><circle cx="139.7" cy="372.7" r="1.9"/><circle cx="180.8" cy="385.9" r="1.9"/><circle cx="244.4" cy="443.8" r="1.9"/><circle cx="77.6" cy="389.0" r="1.9"/><circle cx="218.9" cy="415.1" r="1.9"/><circle cx="149.5" cy="374.2" r="1.9"/><circle cx="221.1" cy="417.2" r="1.9"/><circle cx="240.5" cy="438.9" r="1.9"/><circle cx="215.6" cy="411.9" r="1.9"/><circle cx="126.6" cy="372.6" r="1.9"/><circle cx="147.7" cy="373.8" r="1.9"/><circle cx="105.5" cy="376.3" r="1.9"/><circle cx="208.1" cy="405.2" r="1.9"/><circle cx="114.6" cy="374.1" r="1.9"/><circle cx="143.1" cy="373.1" r="1.9"/><circle cx="108.6" cy="375.4" r="1.9"/><circle cx="197.7" cy="396.9" r="1.9"/><circle cx="144.6" cy="373.3" r="1.9"/><circle cx="112.6" cy="374.5" r="1.9"/><circle cx="173.2" cy="382.1" r="1.9"/><circle cx="99.0" cy="378.5" r="1.9"/><circle cx="190.6" cy="391.9" r="1.9"/><circle cx="96.7" cy="379.4" r="1.9"/><circle cx="218.6" cy="414.8" r="1.9"/><circle cx="190.8" cy="392.0" r="1.9"/><circle cx="93.3" cy="380.8" r="1.9"/><circle cx="223.0" cy="419.2" r="1.9"/><circle cx="115.6" cy="373.9" r="1.9"/><circle cx="176.7" cy="383.7" r="1.9"/><circle cx="244.4" cy="443.8" r="1.9"/><circle cx="100.7" cy="377.9" r="1.9"/><circle cx="140.0" cy="372.8" r="1.9"/><circle cx="166.8" cy="379.3" r="1.9"/><circle cx="97.2" cy="379.1" r="1.9"/><circle cx="149.7" cy="374.2" r="1.9"/><circle cx="120.3" cy="373.1" r="1.9"/><circle cx="151.5" cy="374.6" r="1.9"/><circle cx="185.8" cy="388.8" r="1.9"/><circle cx="231.2" cy="428.0" r="1.9"/><circle cx="112.1" cy="374.6" r="1.9"/><circle cx="214.0" cy="410.4" r="1.9"/><circle cx="193.0" cy="393.5" r="1.9"/><circle cx="163.0" cy="377.9" r="1.9"/><circle cx="105.4" cy="376.3" r="1.9"/><circle cx="103.9" cy="376.8" r="1.9"/><circle cx="237.6" cy="435.4" r="1.9"/><circle cx="177.4" cy="384.1" r="1.9"/><circle cx="149.1" cy="374.1" r="1.9"/><circle cx="176.8" cy="383.8" r="1.9"/><circle cx="244.9" cy="444.4" r="1.9"/><circle cx="182.9" cy="387.1" r="1.9"/><circle cx="181.1" cy="386.1" r="1.9"/><circle cx="153.2" cy="375.0" r="1.9"/><circle cx="105.6" cy="376.3" r="1.9"/><circle cx="245.6" cy="445.3" r="1.9"/><circle cx="171.4" cy="381.2" r="1.9"/><circle cx="151.1" cy="374.5" r="1.9"/><circle cx="233.1" cy="430.1" r="1.9"/><circle cx="216.9" cy="413.1" r="1.9"/><circle cx="201.2" cy="399.5" r="1.9"/><circle cx="94.3" cy="380.3" r="1.9"/><circle cx="156.5" cy="375.8" r="1.9"/><circle cx="117.9" cy="373.5" r="1.9"/><circle cx="157.6" cy="376.1" r="1.9"/><circle cx="232.9" cy="430.0" r="1.9"/><circle cx="165.6" cy="378.8" r="1.9"/><circle cx="190.6" cy="391.9" r="1.9"/><circle cx="178.2" cy="384.5" r="1.9"/><circle cx="202.2" cy="400.3" r="1.9"/><circle cx="85.3" cy="384.6" r="1.9"/><circle cx="120.7" cy="373.1" r="1.9"/><circle cx="90.0" cy="382.3" r="1.9"/><circle cx="196.6" cy="396.0" r="1.9"/><circle cx="136.4" cy="372.5" r="1.9"/><circle cx="175.5" cy="383.2" r="1.9"/><circle cx="176.0" cy="383.4" r="1.9"/><circle cx="111.0" cy="374.8" r="1.9"/><circle cx="225.8" cy="422.1" r="1.9"/><circle cx="79.2" cy="388.0" r="1.9"/><circle cx="120.1" cy="373.2" r="1.9"/><circle cx="192.2" cy="392.9" r="1.9"/><circle cx="165.7" cy="378.9" r="1.9"/><circle cx="237.4" cy="435.2" r="1.9"/><circle cx="144.1" cy="373.2" r="1.9"/><circle cx="95.6" cy="379.8" r="1.9"/><circle cx="146.9" cy="373.7" r="1.9"/><circle cx="124.5" cy="372.7" r="1.9"/><circle cx="220.7" cy="416.9" r="1.9"/><circle cx="114.8" cy="374.0" r="1.9"/><circle cx="179.3" cy="385.1" r="1.9"/><circle cx="264.2" cy="471.1" r="1.9"/><circle cx="270.9" cy="481.4" r="1.9"/><circle cx="272.7" cy="484.1" r="1.9"/><circle cx="274.9" cy="487.7" r="1.9"/><circle cx="277.2" cy="491.4" r="1.9"/><circle cx="279.4" cy="495.1" r="1.9"/><circle cx="281.4" cy="498.4" r="1.9"/><circle cx="283.4" cy="501.8" r="1.9"/><circle cx="293.9" cy="520.3" r="1.9"/><circle cx="297.9" cy="527.7" r="1.9"/></g>
<g fill="#4d4d4d"><circle cx="64.2" cy="438.3" r="1.9"/><circle cx="70.6" cy="425.4" r="1.9"/><circle cx="75.4" cy="416.5" r="1.9"/><circle cx="80.6" cy="407.1" r="1.9"/><circle cx="124.5" cy="348.7" r="1.9"/><circle cx="111.3" cy="362.5" r="1.9"/><circle cx="122.3" cy="350.8" r="1.9"/><circle cx="160.8" cy="327.8" r="1.9"/><circle cx="221.3" cy="348.2" r="1.9"/><circle cx="176.9" cy="326.4" r="1.9"/><circle cx="246.5" cy="377.6" r="1.9"/><circle cx="139.5" cy="337.1" r="1.9"/><circle cx="133.3" cy="341.4" r="1.9"/><circle cx="216.7" cy="344.2" r="1.9"/><circle cx="178.7" cy="326.6" r="1.9"/><circle cx="129.5" cy="344.4" r="1.9"/><circle cx="125.9" cy="347.4" r="1.9"/><circle cx="176.1" cy="326.4" r="1.9"/><circle cx="186.8" cy="328.1" r="1.9"/><circle cx="191.2" cy="329.4" r="1.9"/><circle cx="202.9" cy="334.7" r="1.9"/><circle cx="148.5" cy="332.1" r="1.9"/><circle cx="194.7" cy="330.7" r="1.9"/><circle cx="133.5" cy="341.2" r="1.9"/><circle cx="250.9" cy="384.0" r="1.9"/><circle cx="247.8" cy="379.4" r="1.9"/><circle cx="122.1" cy="351.0" r="1.9"/><circle cx="206.0" cy="336.4" r="1.9"/><circle cx="187.6" cy="328.2" r="1.9"/><circle cx="145.1" cy="333.8" r="1.9"/><circle cx="209.2" cy="338.6" r="1.9"/><circle cx="150.0" cy="331.4" r="1.9"/><circle cx="176.8" cy="326.4" r="1.9"/><circle cx="206.7" cy="336.9" r="1.9"/><circle cx="183.3" cy="327.3" r="1.9"/><circle cx="165.5" cy="326.9" r="1.9"/><circle cx="180.8" cy="326.9" r="1.9"/><circle cx="194.3" cy="330.5" r="1.9"/><circle cx="181.6" cy="327.0" r="1.9"/><circle cx="158.9" cy="328.3" r="1.9"/><circle cx="186.6" cy="328.0" r="1.9"/><circle cx="216.1" cy="343.7" r="1.9"/><circle cx="224.2" cy="350.9" r="1.9"/><circle cx="118.3" cy="354.8" r="1.9"/><circle cx="214.2" cy="342.2" r="1.9"/><circle cx="139.7" cy="336.9" r="1.9"/><circle cx="147.1" cy="332.8" r="1.9"/><circle cx="242.7" cy="372.3" r="1.9"/><circle cx="135.8" cy="339.6" r="1.9"/><circle cx="158.3" cy="328.4" r="1.9"/><circle cx="213.4" cy="341.6" r="1.9"/><circle cx="200.2" cy="333.2" r="1.9"/><circle cx="108.5" cy="365.8" r="1.9"/><circle cx="270.4" cy="417.5" r="1.9"/><circle cx="204.4" cy="335.5" r="1.9"/><circle cx="184.2" cy="327.4" r="1.9"/><circle cx="180.3" cy="326.8" r="1.9"/><circle cx="129.3" cy="344.6" r="1.9"/><circle cx="132.5" cy="342.0" r="1.9"/><circle cx="105.5" cy="369.6" r="1.9"/><circle cx="177.5" cy="326.5" r="1.9"/><circle cx="169.5" cy="326.5" r="1.9"/><circle cx="234.1" cy="361.6" r="1.9"/><circle cx="245.6" cy="376.3" r="1.9"/><circle cx="185.3" cy="327.7" r="1.9"/><circle cx="178.0" cy="326.5" r="1.9"/><circle cx="219.9" cy="346.9" r="1.9"/><circle cx="227.9" cy="354.7" r="1.9"/><circle cx="191.1" cy="329.3" r="1.9"/><circle cx="155.6" cy="329.3" r="1.9"/><circle cx="247.0" cy="378.2" r="1.9"/><circle cx="109.0" cy="365.2" r="1.9"/><circle cx="176.5" cy="326.4" r="1.9"/><circle cx="270.7" cy="418.1" r="1.9"/><circle cx="202.4" cy="334.3" r="1.9"/><circle cx="189.1" cy="328.7" r="1.9"/><circle cx="128.9" cy="344.9" r="1.9"/><circle cx="120.3" cy="352.8" r="1.9"/><circle cx="140.4" cy="336.5" r="1.9"/><circle cx="142.0" cy="335.5" r="1.9"/><circle cx="135.5" cy="339.8" r="1.9"/><circle cx="134.0" cy="340.8" r="1.9"/><circle cx="97.8" cy="379.9" r="1.9"/><circle cx="189.1" cy="328.7" r="1.9"/><circle cx="124.0" cy="349.2" r="1.9"/><circle cx="204.4" cy="335.5" r="1.9"/><circle cx="156.8" cy="328.9" r="1.9"/><circle cx="126.8" cy="346.6" r="1.9"/><circle cx="252.3" cy="386.2" r="1.9"/><circle cx="210.3" cy="339.3" r="1.9"/><circle cx="155.5" cy="329.3" r="1.9"/><circle cx="208.0" cy="337.7" r="1.9"/><circle cx="214.7" cy="342.6" r="1.9"/><circle cx="130.1" cy="343.9" r="1.9"/><circle cx="143.7" cy="334.6" r="1.9"/><circle cx="183.5" cy="327.3" r="1.9"/><circle cx="221.3" cy="348.2" r="1.9"/><circle cx="165.3" cy="326.9" r="1.9"/><circle cx="243.7" cy="373.7" r="1.9"/><circle cx="173.2" cy="326.3" r="1.9"/><circle cx="217.3" cy="344.7" r="1.9"/><circle cx="150.6" cy="331.2" r="1.9"/><circle cx="163.9" cy="327.2" r="1.9"/><circle cx="172.1" cy="326.3" r="1.9"/><circle cx="188.7" cy="328.6" r="1.9"/><circle cx="214.9" cy="342.7" r="1.9"/><circle cx="210.9" cy="339.7" r="1.9"/><circle cx="83.1" cy="402.8" r="1.9"/><circle cx="195.7" cy="331.1" r="1.9"/><circle cx="157.3" cy="328.7" r="1.9"/><circle cx="128.0" cy="345.6" r="1.9"/><circle cx="140.8" cy="336.3" r="1.9"/><circle cx="230.8" cy="357.8" r="1.9"/><circle cx="243.9" cy="373.9" r="1.9"/><circle cx="126.4" cy="347.0" r="1.9"/><circle cx="176.7" cy="326.4" r="1.9"/><circle cx="191.2" cy="329.4" r="1.9"/><circle cx="139.7" cy="336.9" r="1.9"/><circle cx="127.5" cy="346.0" r="1.9"/><circle cx="201.7" cy="334.0" r="1.9"/><circle cx="165.0" cy="327.0" r="1.9"/><circle cx="185.2" cy="327.7" r="1.9"/><circle cx="150.6" cy="331.2" r="1.9"/><circle cx="136.9" cy="338.8" r="1.9"/><circle cx="133.6" cy="341.1" r="1.9"/><circle cx="227.6" cy="354.3" r="1.9"/><circle cx="110.4" cy="363.5" r="1.9"/><circle cx="133.9" cy="341.0" r="1.9"/><circle cx="164.7" cy="327.0" r="1.9"/><circle cx="146.4" cy="333.1" r="1.9"/><circle cx="138.7" cy="337.6" r="1.9"/><circle cx="83.9" cy="401.6" r="1.9"/><circle cx="93.0" cy="387.0" r="1.9"/><circle cx="117.7" cy="355.4" r="1.9"/><circle cx="161.8" cy="327.6" r="1.9"/><circle cx="184.1" cy="327.4" r="1.9"/><circle cx="186.0" cy="327.9" r="1.9"/><circle cx="176.5" cy="326.4" r="1.9"/><circle cx="200.6" cy="333.4" r="1.9"/><circle cx="256.7" cy="393.1" r="1.9"/><circle cx="188.2" cy="328.4" r="1.9"/><circle cx="167.3" cy="326.7" r="1.9"/><circle cx="128.0" cy="345.7" r="1.9"/><circle cx="88.9" cy="393.2" r="1.9"/><circle cx="150.4" cy="331.3" r="1.9"/><circle cx="150.2" cy="331.3" r="1.9"/><circle cx="223.3" cy="350.1" r="1.9"/><circle cx="192.0" cy="329.6" r="1.9"/><circle cx="160.3" cy="327.9" r="1.9"/><circle cx="254.8" cy="390.0" r="1.9"/><circle cx="221.7" cy="348.6" r="1.9"/><circle cx="83.8" cy="401.6" r="1.9"/><circle cx="180.6" cy="326.8" r="1.9"/><circle cx="185.5" cy="327.7" r="1.9"/><circle cx="146.6" cy="333.0" r="1.9"/><circle cx="166.3" cy="326.8" r="1.9"/><circle cx="248.7" cy="380.7" r="1.9"/><circle cx="206.1" cy="336.5" r="1.9"/><circle cx="116.3" cy="356.9" r="1.9"/><circle cx="170.3" cy="326.4" r="1.9"/><circle cx="163.8" cy="327.2" r="1.9"/><circle cx="183.7" cy="327.4" r="1.9"/><circle cx="195.4" cy="330.9" r="1.9"/><circle cx="195.2" cy="330.9" r="1.9"/><circle cx="160.1" cy="328.0" r="1.9"/><circle cx="189.9" cy="328.9" r="1.9"/><circle cx="190.7" cy="329.2" r="1.9"/><circle cx="106.0" cy="368.9" r="1.9"/><circle cx="243.8" cy="373.8" r="1.9"/><circle cx="112.2" cy="361.5" r="1.9"/><circle cx="240.5" cy="369.4" r="1.9"/><circle cx="221.7" cy="348.5" r="1.9"/><circle cx="164.6" cy="327.0" r="1.9"/><circle cx="224.8" cy="351.5" r="1.9"/><circle cx="179.8" cy="326.7" r="1.9"/><circle cx="221.3" cy="348.2" r="1.9"/><circle cx="108.1" cy="366.3" r="1.9"/><circle cx="195.7" cy="331.1" r="1.9"/><circle cx="117.4" cy="355.7" r="1.9"/><circle cx="247.9" cy="379.6" r="1.9"/><circle cx="99.5" cy="377.5" r="1.9"/><circle cx="205.1" cy="335.9" r="1.9"/><circle cx="193.2" cy="330.1" r="1.9"/><circle cx="198.6" cy="332.4" r="1.9"/><circle cx="167.4" cy="326.6" r="1.9"/><circle cx="220.1" cy="347.1" r="1.9"/><circle cx="194.8" cy="330.7" r="1.9"/><circle cx="182.9" cy="327.2" r="1.9"/><circle cx="114.1" cy="359.3" r="1.9"/><circle cx="148.7" cy="332.0" r="1.9"/><circle cx="179.2" cy="326.6" r="1.9"/><circle cx="132.4" cy="342.1" r="1.9"/><circle cx="131.0" cy="343.1" r="1.9"/><circle cx="153.3" cy="330.1" r="1.9"/><circle cx="248.0" cy="379.7" r="1.9"/><circle cx="190.7" cy="329.2" r="1.9"/><circle cx="188.4" cy="328.5" r="1.9"/><circle cx="187.4" cy="328.2" r="1.9"/><circle cx="179.3" cy="326.7" r="1.9"/><circle cx="138.5" cy="337.7" r="1.9"/><circle cx="211.9" cy="340.5" r="1.9"/><circle cx="138.9" cy="337.4" r="1.9"/><circle cx="152.9" cy="330.2" r="1.9"/><circle cx="158.3" cy="328.4" r="1.9"/><circle cx="202.0" cy="334.1" r="1.9"/><circle cx="174.2" cy="326.3" r="1.9"/><circle cx="114.8" cy="358.5" r="1.9"/><circle cx="207.0" cy="337.1" r="1.9"/><circle cx="208.1" cy="337.8" r="1.9"/><circle cx="163.2" cy="327.3" r="1.9"/><circle cx="201.6" cy="333.9" r="1.9"/><circle cx="178.3" cy="326.6" r="1.9"/><circle cx="234.5" cy="362.0" r="1.9"/><circle cx="235.4" cy="363.1" r="1.9"/><circle cx="216.8" cy="344.3" r="1.9"/><circle cx="200.1" cy="333.1" r="1.9"/><circle cx="254.6" cy="389.7" r="1.9"/><circle cx="245.1" cy="375.5" r="1.9"/><circle cx="163.3" cy="327.3" r="1.9"/><circle cx="184.1" cy="327.4" r="1.9"/><circle cx="134.2" cy="340.7" r="1.9"/><circle cx="96.3" cy="382.0" r="1.9"/><circle cx="157.7" cy="328.6" r="1.9"/><circle cx="201.4" cy="333.8" r="1.9"/><circle cx="150.4" cy="331.2" r="1.9"/><circle cx="168.9" cy="326.5" r="1.9"/><circle cx="222.4" cy="349.2" r="1.9"/><circle cx="157.1" cy="328.8" r="1.9"/><circle cx="109.5" cy="364.6" r="1.9"/><circle cx="180.9" cy="326.9" r="1.9"/><circle cx="147.8" cy="332.4" r="1.9"/><circle cx="166.0" cy="326.8" r="1.9"/><circle cx="159.5" cy="328.1" r="1.9"/><circle cx="224.5" cy="351.2" r="1.9"/><circle cx="216.9" cy="344.4" r="1.9"/><circle cx="193.1" cy="330.0" r="1.9"/><circle cx="181.3" cy="326.9" r="1.9"/><circle cx="117.4" cy="355.7" r="1.9"/><circle cx="128.7" cy="345.0" r="1.9"/><circle cx="270.7" cy="418.0" r="1.9"/><circle cx="121.6" cy="351.5" r="1.9"/><circle cx="158.4" cy="328.4" r="1.9"/><circle cx="154.7" cy="329.6" r="1.9"/><circle cx="180.5" cy="326.8" r="1.9"/><circle cx="130.6" cy="343.5" r="1.9"/><circle cx="227.6" cy="354.3" r="1.9"/><circle cx="144.8" cy="334.0" r="1.9"/><circle cx="191.5" cy="329.5" r="1.9"/><circle cx="176.6" cy="326.4" r="1.9"/><circle cx="188.7" cy="328.6" r="1.9"/><circle cx="138.7" cy="337.6" r="1.9"/><circle cx="206.4" cy="336.7" r="1.9"/><circle cx="190.4" cy="329.1" r="1.9"/><circle cx="151.6" cy="330.7" r="1.9"/><circle cx="270.6" cy="417.8" r="1.9"/><circle cx="180.1" cy="326.8" r="1.9"/><circle cx="155.2" cy="329.4" r="1.9"/><circle cx="176.7" cy="326.4" r="1.9"/><circle cx="139.5" cy="337.1" r="1.9"/><circle cx="134.6" cy="340.4" r="1.9"/><circle cx="171.8" cy="326.3" r="1.9"/><circle cx="112.7" cy="360.8" r="1.9"/><circle cx="140.8" cy="336.2" r="1.9"/><circle cx="214.8" cy="342.7" r="1.9"/><circle cx="179.2" cy="326.7" r="1.9"/><circle cx="214.8" cy="342.6" r="1.9"/><circle cx="179.8" cy="326.7" r="1.9"/><circle cx="202.6" cy="334.5" r="1.9"/><circle cx="206.3" cy="336.6" r="1.9"/><circle cx="218.9" cy="346.0" r="1.9"/><circle cx="125.9" cy="347.4" r="1.9"/><circle cx="225.2" cy="352.0" r="1.9"/><circle cx="239.1" cy="367.6" r="1.9"/><circle cx="197.8" cy="332.0" r="1.9"/><circle cx="115.2" cy="358.1" r="1.9"/><circle cx="164.4" cy="327.1" r="1.9"/><circle cx="206.6" cy="336.9" r="1.9"/><circle cx="169.2" cy="326.5" r="1.9"/><circle cx="184.2" cy="327.5" r="1.9"/><circle cx="194.9" cy="330.7" r="1.9"/><circle cx="112.0" cy="361.6" r="1.9"/><circle cx="148.8" cy="332.0" r="1.9"/><circle cx="87.9" cy="394.9" r="1.9"/><circle cx="127.3" cy="346.2" r="1.9"/><circle cx="121.9" cy="351.2" r="1.9"/><circle cx="176.5" cy="326.4" r="1.9"/><circle cx="182.2" cy="327.1" r="1.9"/><circle cx="141.7" cy="335.7" r="1.9"/><circle cx="178.9" cy="326.6" r="1.9"/><circle cx="175.3" cy="326.4" r="1.9"/><circle cx="219.6" cy="346.6" r="1.9"/><circle cx="170.5" cy="326.4" r="1.9"/><circle cx="132.9" cy="341.7" r="1.9"/><circle cx="212.9" cy="341.2" r="1.9"/><circle cx="171.8" cy="326.3" r="1.9"/><circle cx="121.2" cy="351.8" r="1.9"/><circle cx="109.0" cy="365.2" r="1.9"/><circle cx="167.0" cy="326.7" r="1.9"/><circle cx="260.5" cy="399.5" r="1.9"/><circle cx="199.9" cy="333.0" r="1.9"/><circle cx="181.1" cy="326.9" r="1.9"/><circle cx="214.2" cy="342.2" r="1.9"/><circle cx="206.5" cy="336.8" r="1.9"/><circle cx="189.1" cy="328.7" r="1.9"/><circle cx="205.6" cy="336.2" r="1.9"/><circle cx="104.5" cy="370.8" r="1.9"/><circle cx="180.0" cy="326.8" r="1.9"/><circle cx="145.7" cy="333.5" r="1.9"/><circle cx="165.5" cy="326.9" r="1.9"/><circle cx="160.1" cy="327.9" r="1.9"/><circle cx="187.2" cy="328.1" r="1.9"/><circle cx="118.6" cy="354.4" r="1.9"/><circle cx="131.1" cy="343.1" r="1.9"/><circle cx="201.0" cy="333.6" r="1.9"/><circle cx="196.8" cy="331.5" r="1.9"/><circle cx="207.5" cy="337.4" r="1.9"/><circle cx="181.4" cy="326.9" r="1.9"/><circle cx="184.9" cy="327.6" r="1.9"/><circle cx="211.1" cy="339.9" r="1.9"/><circle cx="146.1" cy="333.3" r="1.9"/><circle cx="159.2" cy="328.2" r="1.9"/><circle cx="188.1" cy="328.4" r="1.9"/><circle cx="175.4" cy="326.4" r="1.9"/><circle cx="149.7" cy="331.6" r="1.9"/><circle cx="183.9" cy="327.4" r="1.9"/><circle cx="188.8" cy="328.6" r="1.9"/><circle cx="169.7" cy="326.4" r="1.9"/><circle cx="112.4" cy="361.2" r="1.9"/><circle cx="87.7" cy="395.2" r="1.9"/><circle cx="192.4" cy="329.8" r="1.9"/><circle cx="263.9" cy="405.4" r="1.9"/><circle cx="163.9" cy="327.1" r="1.9"/><circle cx="184.6" cy="327.5" r="1.9"/><circle cx="177.1" cy="326.5" r="1.9"/><circle cx="273.7" cy="423.9" r="1.9"/><circle cx="275.7" cy="428.0" r="1.9"/><circle cx="277.4" cy="431.6" r="1.9"/><circle cx="279.1" cy="435.3" r="1.9"/><circle cx="280.9" cy="439.1" r="1.9"/><circle cx="282.6" cy="443.0" r="1.9"/><circle cx="283.9" cy="445.8" r="1.9"/><circle cx="293.1" cy="467.9" r="1.9"/></g>
<rect x="52.4" y="317.4" width="256.6" height="220" fill="none" stroke="#9a9a9a" stroke-width="1"/>
<line x1="111.05" y1="537.4" x2="111.05" y2="540.2" stroke="#555" stroke-width="0.9"/>
<text x="111.05" y="550.6" font-size="14" fill="#4d4d4d" text-anchor="middle">-2.5</text>
<line x1="173.4" y1="537.4" x2="173.4" y2="540.2" stroke="#555" stroke-width="0.9"/>
<text x="173.4" y="550.6" font-size="14" fill="#4d4d4d" text-anchor="middle">0.0</text>
<line x1="235.75" y1="537.4" x2="235.75" y2="540.2" stroke="#555" stroke-width="0.9"/>
<text x="235.75" y="550.6" font-size="14" fill="#4d4d4d" text-anchor="middle">2.5</text>
<line x1="298.1" y1="537.4" x2="298.1" y2="540.2" stroke="#555" stroke-width="0.9"/>
<text x="298.1" y="550.6" font-size="14" fill="#4d4d4d" text-anchor="middle">5.0</text>
<line x1="49.6" y1="489.2" x2="52.4" y2="489.2" stroke="#555" stroke-width="0.9"/>
<text x="48.4" y="494.8" font-size="14" fill="#4d4d4d" text-anchor="end">3220</text>
<line x1="49.6" y1="430.8" x2="52.4" y2="430.8" stroke="#555" stroke-width="0.9"/>
<text x="48.4" y="436.4" font-size="14" fill="#4d4d4d" text-anchor="end">3240</text>
<line x1="49.6" y1="372.4" x2="52.4" y2="372.4" stroke="#555" stroke-width="0.9"/>
<text x="48.4" y="378" font-size="14" fill="#4d4d4d" text-anchor="end">3260</text>
<text x="180.7" y="566.4" font-size="15.8" fill="#000" text-anchor="middle">Hormone</text>
<text x="0" y="0" font-size="15.8" fill="#000" text-anchor="middle" transform="translate(14,427.4) rotate(-90)">Birth Weight</text>
<text x="64" y="493" font-size="15.8" fill="#000">Pesticide</text>
<circle cx="70" cy="509" r="2" fill="#4d4d4d"/>
<circle cx="70" cy="522" r="2" fill="#a3a3a3"/>
<text x="85" y="513.6" font-size="14.45" fill="#000">High exposure</text>
<text x="85" y="526.4" font-size="14.45" fill="#000">Low exposure</text>
</g>
<g>
<line x1="83.64" y1="639.4" x2="83.64" y2="849.2" stroke="#f2f2f2" stroke-width="0.8"/>
<line x1="142.71" y1="639.4" x2="142.71" y2="849.2" stroke="#f2f2f2" stroke-width="0.8"/>
<line x1="201.79" y1="639.4" x2="201.79" y2="849.2" stroke="#f2f2f2" stroke-width="0.8"/>
<line x1="260.86" y1="639.4" x2="260.86" y2="849.2" stroke="#f2f2f2" stroke-width="0.8"/>
<line x1="57.6" y1="832.4" x2="301.6" y2="832.4" stroke="#f2f2f2" stroke-width="0.8"/>
<line x1="57.6" y1="776.4" x2="301.6" y2="776.4" stroke="#f2f2f2" stroke-width="0.8"/>
<line x1="57.6" y1="720.4" x2="301.6" y2="720.4" stroke="#f2f2f2" stroke-width="0.8"/>
<line x1="57.6" y1="664.4" x2="301.6" y2="664.4" stroke="#f2f2f2" stroke-width="0.8"/>
<line x1="113.18" y1="639.4" x2="113.18" y2="849.2" stroke="#ebebeb" stroke-width="1"/>
<line x1="172.25" y1="639.4" x2="172.25" y2="849.2" stroke="#ebebeb" stroke-width="1"/>
<line x1="231.32" y1="639.4" x2="231.32" y2="849.2" stroke="#ebebeb" stroke-width="1"/>
<line x1="290.4" y1="639.4" x2="290.4" y2="849.2" stroke="#ebebeb" stroke-width="1"/>
<line x1="57.6" y1="804.4" x2="301.6" y2="804.4" stroke="#ebebeb" stroke-width="1"/>
<line x1="57.6" y1="748.4" x2="301.6" y2="748.4" stroke="#ebebeb" stroke-width="1"/>
<line x1="57.6" y1="692.4" x2="301.6" y2="692.4" stroke="#ebebeb" stroke-width="1"/>
<rect x="62" y="791" width="111" height="57" fill="#fff"/>
<g fill="#a3a3a3"><circle cx="67.8" cy="774.7" r="1.9"/><circle cx="69.7" cy="772.9" r="1.9"/><circle cx="74.2" cy="768.7" r="1.9"/><circle cx="202.0" cy="686.8" r="1.9"/><circle cx="209.9" cy="687.0" r="1.9"/><circle cx="168.4" cy="696.8" r="1.9"/><circle cx="243.0" cy="705.2" r="1.9"/><circle cx="127.2" cy="723.3" r="1.9"/><circle cx="181.4" cy="691.3" r="1.9"/><circle cx="96.5" cy="748.5" r="1.9"/><circle cx="169.4" cy="696.3" r="1.9"/><circle cx="149.9" cy="707.4" r="1.9"/><circle cx="131.5" cy="720.1" r="1.9"/><circle cx="247.7" cy="711.1" r="1.9"/><circle cx="149.2" cy="707.8" r="1.9"/><circle cx="140.1" cy="713.9" r="1.9"/><circle cx="108.8" cy="738.0" r="1.9"/><circle cx="106.2" cy="740.2" r="1.9"/><circle cx="246.9" cy="710.1" r="1.9"/><circle cx="172.4" cy="694.9" r="1.9"/><circle cx="221.4" cy="689.6" r="1.9"/><circle cx="83.6" cy="760.0" r="1.9"/><circle cx="175.1" cy="693.7" r="1.9"/><circle cx="152.2" cy="705.9" r="1.9"/><circle cx="146.1" cy="709.8" r="1.9"/><circle cx="189.7" cy="688.7" r="1.9"/><circle cx="95.7" cy="749.2" r="1.9"/><circle cx="127.1" cy="723.4" r="1.9"/><circle cx="128.5" cy="722.3" r="1.9"/><circle cx="155.8" cy="703.7" r="1.9"/><circle cx="140.6" cy="713.6" r="1.9"/><circle cx="199.5" cy="687.0" r="1.9"/><circle cx="158.9" cy="701.9" r="1.9"/><circle cx="200.9" cy="686.9" r="1.9"/><circle cx="108.8" cy="738.0" r="1.9"/><circle cx="172.4" cy="694.9" r="1.9"/><circle cx="189.7" cy="688.7" r="1.9"/><circle cx="186.4" cy="689.6" r="1.9"/><circle cx="89.6" cy="754.6" r="1.9"/><circle cx="117.9" cy="730.6" r="1.9"/><circle cx="176.4" cy="693.2" r="1.9"/><circle cx="131.9" cy="719.8" r="1.9"/><circle cx="156.1" cy="703.5" r="1.9"/><circle cx="221.9" cy="689.8" r="1.9"/><circle cx="215.3" cy="687.8" r="1.9"/><circle cx="80.1" cy="763.2" r="1.9"/><circle cx="164.1" cy="699.0" r="1.9"/><circle cx="230.2" cy="694.0" r="1.9"/><circle cx="143.0" cy="711.9" r="1.9"/><circle cx="158.8" cy="702.0" r="1.9"/><circle cx="145.7" cy="710.1" r="1.9"/><circle cx="204.9" cy="686.7" r="1.9"/><circle cx="154.6" cy="704.4" r="1.9"/><circle cx="224.2" cy="690.8" r="1.9"/><circle cx="120.1" cy="728.8" r="1.9"/><circle cx="151.4" cy="706.4" r="1.9"/><circle cx="152.0" cy="706.0" r="1.9"/><circle cx="179.4" cy="692.0" r="1.9"/><circle cx="162.2" cy="700.0" r="1.9"/><circle cx="129.8" cy="721.3" r="1.9"/><circle cx="214.3" cy="687.6" r="1.9"/><circle cx="163.8" cy="699.2" r="1.9"/><circle cx="125.7" cy="724.5" r="1.9"/><circle cx="215.1" cy="687.8" r="1.9"/><circle cx="248.1" cy="711.7" r="1.9"/><circle cx="86.8" cy="757.1" r="1.9"/><circle cx="121.5" cy="727.7" r="1.9"/><circle cx="169.5" cy="696.3" r="1.9"/><circle cx="146.3" cy="709.7" r="1.9"/><circle cx="217.0" cy="688.2" r="1.9"/><circle cx="152.4" cy="705.8" r="1.9"/><circle cx="162.8" cy="699.7" r="1.9"/><circle cx="160.0" cy="701.3" r="1.9"/><circle cx="216.6" cy="688.1" r="1.9"/><circle cx="154.4" cy="704.6" r="1.9"/><circle cx="173.3" cy="694.5" r="1.9"/><circle cx="100.6" cy="744.9" r="1.9"/><circle cx="197.3" cy="687.3" r="1.9"/><circle cx="99.2" cy="746.2" r="1.9"/><circle cx="85.0" cy="758.8" r="1.9"/><circle cx="181.1" cy="691.4" r="1.9"/><circle cx="103.1" cy="742.8" r="1.9"/><circle cx="186.5" cy="689.6" r="1.9"/><circle cx="141.6" cy="712.8" r="1.9"/><circle cx="213.6" cy="687.5" r="1.9"/><circle cx="99.7" cy="745.8" r="1.9"/><circle cx="119.4" cy="729.3" r="1.9"/><circle cx="159.7" cy="701.4" r="1.9"/><circle cx="204.0" cy="686.7" r="1.9"/><circle cx="96.2" cy="748.8" r="1.9"/><circle cx="246.9" cy="710.0" r="1.9"/><circle cx="173.9" cy="694.3" r="1.9"/><circle cx="150.6" cy="706.9" r="1.9"/><circle cx="179.2" cy="692.1" r="1.9"/><circle cx="236.8" cy="699.0" r="1.9"/><circle cx="123.2" cy="726.4" r="1.9"/><circle cx="114.7" cy="733.2" r="1.9"/><circle cx="137.1" cy="716.0" r="1.9"/><circle cx="95.2" cy="749.7" r="1.9"/><circle cx="134.8" cy="717.7" r="1.9"/><circle cx="164.4" cy="698.9" r="1.9"/><circle cx="116.1" cy="732.0" r="1.9"/><circle cx="236.6" cy="698.8" r="1.9"/><circle cx="219.9" cy="689.1" r="1.9"/><circle cx="139.5" cy="714.3" r="1.9"/><circle cx="231.0" cy="694.6" r="1.9"/><circle cx="110.6" cy="736.5" r="1.9"/><circle cx="140.6" cy="713.5" r="1.9"/><circle cx="209.8" cy="687.0" r="1.9"/><circle cx="194.7" cy="687.7" r="1.9"/><circle cx="99.4" cy="746.0" r="1.9"/><circle cx="117.4" cy="731.0" r="1.9"/><circle cx="169.8" cy="696.1" r="1.9"/><circle cx="212.3" cy="687.3" r="1.9"/><circle cx="160.3" cy="701.1" r="1.9"/><circle cx="175.9" cy="693.4" r="1.9"/><circle cx="84.3" cy="759.4" r="1.9"/><circle cx="123.4" cy="726.3" r="1.9"/><circle cx="176.5" cy="693.2" r="1.9"/><circle cx="108.3" cy="738.4" r="1.9"/><circle cx="106.1" cy="740.3" r="1.9"/><circle cx="105.3" cy="740.9" r="1.9"/><circle cx="182.2" cy="691.0" r="1.9"/><circle cx="250.7" cy="715.5" r="1.9"/><circle cx="190.1" cy="688.6" r="1.9"/><circle cx="120.1" cy="728.8" r="1.9"/><circle cx="187.8" cy="689.3" r="1.9"/><circle cx="169.1" cy="696.5" r="1.9"/><circle cx="103.5" cy="742.5" r="1.9"/><circle cx="131.2" cy="720.3" r="1.9"/><circle cx="100.6" cy="744.9" r="1.9"/><circle cx="125.9" cy="724.3" r="1.9"/><circle cx="142.2" cy="712.5" r="1.9"/><circle cx="147.7" cy="708.7" r="1.9"/><circle cx="92.5" cy="752.0" r="1.9"/><circle cx="136.7" cy="716.3" r="1.9"/><circle cx="122.0" cy="727.3" r="1.9"/><circle cx="116.5" cy="731.7" r="1.9"/><circle cx="114.8" cy="733.1" r="1.9"/><circle cx="189.9" cy="688.7" r="1.9"/><circle cx="157.8" cy="702.6" r="1.9"/><circle cx="163.2" cy="699.5" r="1.9"/><circle cx="103.8" cy="742.2" r="1.9"/><circle cx="129.3" cy="721.7" r="1.9"/><circle cx="90.4" cy="753.9" r="1.9"/><circle cx="112.7" cy="734.8" r="1.9"/><circle cx="136.0" cy="716.8" r="1.9"/><circle cx="142.5" cy="712.3" r="1.9"/><circle cx="165.4" cy="698.3" r="1.9"/><circle cx="207.3" cy="686.8" r="1.9"/><circle cx="83.1" cy="760.5" r="1.9"/><circle cx="83.7" cy="760.0" r="1.9"/><circle cx="174.6" cy="694.0" r="1.9"/><circle cx="140.5" cy="713.6" r="1.9"/><circle cx="196.5" cy="687.4" r="1.9"/><circle cx="157.3" cy="702.8" r="1.9"/><circle cx="123.6" cy="726.1" r="1.9"/><circle cx="193.3" cy="687.9" r="1.9"/><circle cx="100.6" cy="745.0" r="1.9"/><circle cx="155.8" cy="703.7" r="1.9"/><circle cx="217.0" cy="688.2" r="1.9"/><circle cx="232.7" cy="695.8" r="1.9"/><circle cx="123.6" cy="726.0" r="1.9"/><circle cx="175.0" cy="693.8" r="1.9"/><circle cx="152.8" cy="705.5" r="1.9"/><circle cx="201.3" cy="686.9" r="1.9"/><circle cx="118.6" cy="730.0" r="1.9"/><circle cx="192.0" cy="688.2" r="1.9"/><circle cx="167.1" cy="697.5" r="1.9"/><circle cx="208.4" cy="686.8" r="1.9"/><circle cx="140.9" cy="713.4" r="1.9"/><circle cx="202.1" cy="686.8" r="1.9"/><circle cx="129.3" cy="721.7" r="1.9"/><circle cx="208.6" cy="686.9" r="1.9"/><circle cx="204.1" cy="686.7" r="1.9"/><circle cx="122.3" cy="727.1" r="1.9"/><circle cx="171.6" cy="695.3" r="1.9"/><circle cx="237.0" cy="699.2" r="1.9"/><circle cx="186.4" cy="689.6" r="1.9"/><circle cx="113.4" cy="734.2" r="1.9"/><circle cx="103.7" cy="742.3" r="1.9"/><circle cx="125.8" cy="724.4" r="1.9"/><circle cx="224.7" cy="691.0" r="1.9"/><circle cx="197.3" cy="687.3" r="1.9"/><circle cx="216.6" cy="688.1" r="1.9"/><circle cx="198.8" cy="687.1" r="1.9"/><circle cx="164.7" cy="698.7" r="1.9"/><circle cx="222.9" cy="690.2" r="1.9"/><circle cx="141.7" cy="712.8" r="1.9"/><circle cx="131.8" cy="719.9" r="1.9"/><circle cx="177.0" cy="693.0" r="1.9"/><circle cx="157.1" cy="703.0" r="1.9"/><circle cx="186.1" cy="689.7" r="1.9"/><circle cx="227.4" cy="692.4" r="1.9"/><circle cx="116.2" cy="732.0" r="1.9"/><circle cx="172.6" cy="694.9" r="1.9"/><circle cx="165.3" cy="698.4" r="1.9"/><circle cx="124.5" cy="725.4" r="1.9"/><circle cx="171.0" cy="695.6" r="1.9"/><circle cx="228.5" cy="693.0" r="1.9"/><circle cx="229.9" cy="693.9" r="1.9"/><circle cx="189.3" cy="688.8" r="1.9"/><circle cx="166.6" cy="697.7" r="1.9"/><circle cx="99.4" cy="746.0" r="1.9"/><circle cx="130.6" cy="720.7" r="1.9"/><circle cx="143.0" cy="711.9" r="1.9"/><circle cx="153.3" cy="705.2" r="1.9"/><circle cx="145.0" cy="710.6" r="1.9"/><circle cx="102.5" cy="743.4" r="1.9"/><circle cx="186.8" cy="689.5" r="1.9"/><circle cx="171.9" cy="695.2" r="1.9"/><circle cx="97.5" cy="747.6" r="1.9"/><circle cx="234.9" cy="697.4" r="1.9"/><circle cx="184.6" cy="690.2" r="1.9"/><circle cx="130.3" cy="721.0" r="1.9"/><circle cx="149.3" cy="707.7" r="1.9"/><circle cx="136.9" cy="716.2" r="1.9"/><circle cx="119.8" cy="729.1" r="1.9"/><circle cx="196.1" cy="687.4" r="1.9"/><circle cx="159.5" cy="701.5" r="1.9"/><circle cx="120.4" cy="728.6" r="1.9"/><circle cx="208.7" cy="686.9" r="1.9"/><circle cx="88.3" cy="755.8" r="1.9"/><circle cx="233.6" cy="696.4" r="1.9"/><circle cx="134.1" cy="718.1" r="1.9"/><circle cx="225.6" cy="691.5" r="1.9"/><circle cx="187.1" cy="689.4" r="1.9"/><circle cx="119.8" cy="729.0" r="1.9"/><circle cx="93.4" cy="751.2" r="1.9"/><circle cx="179.8" cy="691.8" r="1.9"/><circle cx="224.7" cy="691.0" r="1.9"/><circle cx="179.9" cy="691.8" r="1.9"/><circle cx="204.2" cy="686.7" r="1.9"/><circle cx="140.3" cy="713.8" r="1.9"/><circle cx="179.3" cy="692.1" r="1.9"/><circle cx="239.5" cy="701.6" r="1.9"/><circle cx="81.5" cy="761.9" r="1.9"/><circle cx="215.4" cy="687.8" r="1.9"/><circle cx="149.6" cy="707.6" r="1.9"/><circle cx="217.4" cy="688.3" r="1.9"/><circle cx="235.8" cy="698.2" r="1.9"/><circle cx="212.2" cy="687.2" r="1.9"/><circle cx="127.9" cy="722.7" r="1.9"/><circle cx="147.9" cy="708.6" r="1.9"/><circle cx="107.9" cy="738.7" r="1.9"/><circle cx="205.2" cy="686.7" r="1.9"/><circle cx="116.6" cy="731.6" r="1.9"/><circle cx="143.5" cy="711.6" r="1.9"/><circle cx="110.9" cy="736.3" r="1.9"/><circle cx="195.3" cy="687.6" r="1.9"/><circle cx="145.0" cy="710.6" r="1.9"/><circle cx="114.7" cy="733.2" r="1.9"/><circle cx="172.1" cy="695.1" r="1.9"/><circle cx="101.8" cy="744.0" r="1.9"/><circle cx="188.5" cy="689.0" r="1.9"/><circle cx="99.6" cy="745.9" r="1.9"/><circle cx="215.1" cy="687.8" r="1.9"/><circle cx="188.8" cy="689.0" r="1.9"/><circle cx="96.3" cy="748.7" r="1.9"/><circle cx="219.2" cy="688.9" r="1.9"/><circle cx="117.5" cy="730.9" r="1.9"/><circle cx="175.4" cy="693.6" r="1.9"/><circle cx="239.5" cy="701.6" r="1.9"/><circle cx="103.3" cy="742.6" r="1.9"/><circle cx="140.6" cy="713.6" r="1.9"/><circle cx="166.0" cy="698.0" r="1.9"/><circle cx="100.1" cy="745.4" r="1.9"/><circle cx="149.8" cy="707.4" r="1.9"/><circle cx="122.0" cy="727.4" r="1.9"/><circle cx="151.5" cy="706.3" r="1.9"/><circle cx="184.0" cy="690.4" r="1.9"/><circle cx="227.0" cy="692.2" r="1.9"/><circle cx="114.2" cy="733.6" r="1.9"/><circle cx="210.7" cy="687.1" r="1.9"/><circle cx="190.8" cy="688.5" r="1.9"/><circle cx="162.3" cy="700.0" r="1.9"/><circle cx="107.8" cy="738.8" r="1.9"/><circle cx="106.4" cy="740.0" r="1.9"/><circle cx="233.0" cy="696.0" r="1.9"/><circle cx="176.1" cy="693.3" r="1.9"/><circle cx="149.2" cy="707.8" r="1.9"/><circle cx="175.5" cy="693.6" r="1.9"/><circle cx="240.0" cy="702.0" r="1.9"/><circle cx="181.3" cy="691.3" r="1.9"/><circle cx="179.6" cy="692.0" r="1.9"/><circle cx="153.1" cy="705.3" r="1.9"/><circle cx="108.0" cy="738.7" r="1.9"/><circle cx="240.6" cy="702.7" r="1.9"/><circle cx="170.3" cy="695.9" r="1.9"/><circle cx="151.1" cy="706.6" r="1.9"/><circle cx="228.8" cy="693.2" r="1.9"/><circle cx="213.4" cy="687.5" r="1.9"/><circle cx="198.6" cy="687.1" r="1.9"/><circle cx="97.3" cy="747.8" r="1.9"/><circle cx="156.3" cy="703.4" r="1.9"/><circle cx="119.7" cy="729.1" r="1.9"/><circle cx="157.3" cy="702.8" r="1.9"/><circle cx="228.6" cy="693.1" r="1.9"/><circle cx="164.9" cy="698.6" r="1.9"/><circle cx="188.6" cy="689.0" r="1.9"/><circle cx="176.8" cy="693.1" r="1.9"/><circle cx="199.6" cy="687.0" r="1.9"/><circle cx="88.8" cy="755.4" r="1.9"/><circle cx="122.3" cy="727.1" r="1.9"/><circle cx="93.2" cy="751.4" r="1.9"/><circle cx="194.2" cy="687.8" r="1.9"/><circle cx="137.2" cy="715.9" r="1.9"/><circle cx="174.3" cy="694.1" r="1.9"/><circle cx="174.7" cy="693.9" r="1.9"/><circle cx="113.1" cy="734.4" r="1.9"/><circle cx="221.9" cy="689.8" r="1.9"/><circle cx="83.0" cy="760.6" r="1.9"/><circle cx="121.8" cy="727.5" r="1.9"/><circle cx="190.1" cy="688.6" r="1.9"/><circle cx="164.9" cy="698.6" r="1.9"/><circle cx="232.9" cy="695.9" r="1.9"/><circle cx="144.5" cy="710.9" r="1.9"/><circle cx="98.6" cy="746.7" r="1.9"/><circle cx="147.2" cy="709.1" r="1.9"/><circle cx="125.9" cy="724.3" r="1.9"/><circle cx="217.1" cy="688.2" r="1.9"/><circle cx="116.7" cy="731.5" r="1.9"/><circle cx="177.9" cy="692.6" r="1.9"/><circle cx="258.3" cy="728.7" r="1.9"/><circle cx="264.6" cy="742.7" r="1.9"/><circle cx="266.3" cy="746.9" r="1.9"/><circle cx="268.4" cy="752.6" r="1.9"/><circle cx="270.6" cy="758.6" r="1.9"/><circle cx="272.7" cy="765.1" r="1.9"/><circle cx="274.6" cy="771.3" r="1.9"/><circle cx="276.5" cy="777.8" r="1.9"/><circle cx="286.4" cy="819.2" r="1.9"/><circle cx="290.2" cy="838.7" r="1.9"/></g>
<g fill="#4d4d4d"><circle cx="68.8" cy="787.2" r="1.9"/><circle cx="74.9" cy="787.1" r="1.9"/><circle cx="79.4" cy="787.0" r="1.9"/><circle cx="84.3" cy="786.8" r="1.9"/><circle cx="125.9" cy="781.2" r="1.9"/><circle cx="113.4" cy="784.2" r="1.9"/><circle cx="123.8" cy="781.9" r="1.9"/><circle cx="160.3" cy="757.6" r="1.9"/><circle cx="217.6" cy="670.9" r="1.9"/><circle cx="175.6" cy="735.6" r="1.9"/><circle cx="241.6" cy="655.4" r="1.9"/><circle cx="140.1" cy="775.1" r="1.9"/><circle cx="134.2" cy="778.1" r="1.9"/><circle cx="213.3" cy="675.5" r="1.9"/><circle cx="177.3" cy="732.7" r="1.9"/><circle cx="130.6" cy="779.6" r="1.9"/><circle cx="127.3" cy="780.8" r="1.9"/><circle cx="174.8" cy="736.9" r="1.9"/><circle cx="185.0" cy="719.2" r="1.9"/><circle cx="189.1" cy="711.9" r="1.9"/><circle cx="200.2" cy="693.2" r="1.9"/><circle cx="148.6" cy="769.3" r="1.9"/><circle cx="192.5" cy="706.1" r="1.9"/><circle cx="134.4" cy="778.1" r="1.9"/><circle cx="245.7" cy="654.0" r="1.9"/><circle cx="242.8" cy="655.0" r="1.9"/><circle cx="123.6" cy="781.9" r="1.9"/><circle cx="203.1" cy="688.8" r="1.9"/><circle cx="185.7" cy="718.0" r="1.9"/><circle cx="145.4" cy="771.7" r="1.9"/><circle cx="206.2" cy="684.4" r="1.9"/><circle cx="150.1" cy="768.1" r="1.9"/><circle cx="175.5" cy="735.7" r="1.9"/><circle cx="203.8" cy="687.8" r="1.9"/><circle cx="181.7" cy="725.1" r="1.9"/><circle cx="164.8" cy="751.9" r="1.9"/><circle cx="179.2" cy="729.4" r="1.9"/><circle cx="192.0" cy="706.8" r="1.9"/><circle cx="180.1" cy="727.9" r="1.9"/><circle cx="158.6" cy="759.7" r="1.9"/><circle cx="184.8" cy="719.6" r="1.9"/><circle cx="212.7" cy="676.2" r="1.9"/><circle cx="220.4" cy="668.3" r="1.9"/><circle cx="120.1" cy="782.8" r="1.9"/><circle cx="210.9" cy="678.3" r="1.9"/><circle cx="140.3" cy="775.0" r="1.9"/><circle cx="147.3" cy="770.3" r="1.9"/><circle cx="237.9" cy="656.9" r="1.9"/><circle cx="136.6" cy="777.0" r="1.9"/><circle cx="158.0" cy="760.3" r="1.9"/><circle cx="210.1" cy="679.2" r="1.9"/><circle cx="197.6" cy="697.3" r="1.9"/><circle cx="110.7" cy="784.6" r="1.9"/><circle cx="264.2" cy="650.2" r="1.9"/><circle cx="201.6" cy="691.0" r="1.9"/><circle cx="182.5" cy="723.7" r="1.9"/><circle cx="178.8" cy="730.1" r="1.9"/><circle cx="130.4" cy="779.7" r="1.9"/><circle cx="133.5" cy="778.4" r="1.9"/><circle cx="107.9" cy="785.0" r="1.9"/><circle cx="176.1" cy="734.7" r="1.9"/><circle cx="168.6" cy="746.6" r="1.9"/><circle cx="229.8" cy="661.2" r="1.9"/><circle cx="240.7" cy="655.8" r="1.9"/><circle cx="183.5" cy="721.9" r="1.9"/><circle cx="176.6" cy="733.8" r="1.9"/><circle cx="216.3" cy="672.3" r="1.9"/><circle cx="223.9" cy="665.3" r="1.9"/><circle cx="189.1" cy="712.0" r="1.9"/><circle cx="155.4" cy="763.1" r="1.9"/><circle cx="242.0" cy="655.3" r="1.9"/><circle cx="111.2" cy="784.5" r="1.9"/><circle cx="175.2" cy="736.2" r="1.9"/><circle cx="264.5" cy="650.1" r="1.9"/><circle cx="199.7" cy="694.0" r="1.9"/><circle cx="187.1" cy="715.4" r="1.9"/><circle cx="130.1" cy="779.8" r="1.9"/><circle cx="121.9" cy="782.4" r="1.9"/><circle cx="141.0" cy="774.6" r="1.9"/><circle cx="142.5" cy="773.7" r="1.9"/><circle cx="136.3" cy="777.1" r="1.9"/><circle cx="135.0" cy="777.8" r="1.9"/><circle cx="100.6" cy="785.8" r="1.9"/><circle cx="187.1" cy="715.5" r="1.9"/><circle cx="125.5" cy="781.4" r="1.9"/><circle cx="201.6" cy="691.0" r="1.9"/><circle cx="156.5" cy="761.9" r="1.9"/><circle cx="128.1" cy="780.5" r="1.9"/><circle cx="247.0" cy="653.6" r="1.9"/><circle cx="207.2" cy="683.0" r="1.9"/><circle cx="155.3" cy="763.2" r="1.9"/><circle cx="205.0" cy="686.1" r="1.9"/><circle cx="211.4" cy="677.8" r="1.9"/><circle cx="131.2" cy="779.4" r="1.9"/><circle cx="144.1" cy="772.6" r="1.9"/><circle cx="181.8" cy="724.8" r="1.9"/><circle cx="217.7" cy="670.9" r="1.9"/><circle cx="164.5" cy="752.2" r="1.9"/><circle cx="238.9" cy="656.5" r="1.9"/><circle cx="172.1" cy="741.2" r="1.9"/><circle cx="213.9" cy="674.8" r="1.9"/><circle cx="150.7" cy="767.6" r="1.9"/><circle cx="163.2" cy="754.0" r="1.9"/><circle cx="171.0" cy="742.8" r="1.9"/><circle cx="186.8" cy="716.1" r="1.9"/><circle cx="211.6" cy="677.5" r="1.9"/><circle cx="207.8" cy="682.3" r="1.9"/><circle cx="86.7" cy="786.7" r="1.9"/><circle cx="193.4" cy="704.5" r="1.9"/><circle cx="157.0" cy="761.4" r="1.9"/><circle cx="129.3" cy="780.1" r="1.9"/><circle cx="141.4" cy="774.4" r="1.9"/><circle cx="226.7" cy="663.3" r="1.9"/><circle cx="239.0" cy="656.4" r="1.9"/><circle cx="127.7" cy="780.7" r="1.9"/><circle cx="175.4" cy="735.9" r="1.9"/><circle cx="189.1" cy="711.9" r="1.9"/><circle cx="140.3" cy="775.0" r="1.9"/><circle cx="128.8" cy="780.3" r="1.9"/><circle cx="199.1" cy="695.0" r="1.9"/><circle cx="164.3" cy="752.5" r="1.9"/><circle cx="183.4" cy="722.1" r="1.9"/><circle cx="150.6" cy="767.6" r="1.9"/><circle cx="137.7" cy="776.5" r="1.9"/><circle cx="134.6" cy="778.0" r="1.9"/><circle cx="223.6" cy="665.6" r="1.9"/><circle cx="112.6" cy="784.3" r="1.9"/><circle cx="134.8" cy="777.9" r="1.9"/><circle cx="164.0" cy="753.0" r="1.9"/><circle cx="146.7" cy="770.8" r="1.9"/><circle cx="139.4" cy="775.6" r="1.9"/><circle cx="87.4" cy="786.7" r="1.9"/><circle cx="96.1" cy="786.2" r="1.9"/><circle cx="119.5" cy="782.9" r="1.9"/><circle cx="161.2" cy="756.5" r="1.9"/><circle cx="182.4" cy="723.8" r="1.9"/><circle cx="184.2" cy="720.6" r="1.9"/><circle cx="175.1" cy="736.3" r="1.9"/><circle cx="198.0" cy="696.7" r="1.9"/><circle cx="251.2" cy="652.5" r="1.9"/><circle cx="186.3" cy="716.9" r="1.9"/><circle cx="166.5" cy="749.6" r="1.9"/><circle cx="129.2" cy="780.2" r="1.9"/><circle cx="92.2" cy="786.4" r="1.9"/><circle cx="150.4" cy="767.8" r="1.9"/><circle cx="150.3" cy="767.9" r="1.9"/><circle cx="219.6" cy="669.1" r="1.9"/><circle cx="189.9" cy="710.5" r="1.9"/><circle cx="159.9" cy="758.1" r="1.9"/><circle cx="249.4" cy="653.0" r="1.9"/><circle cx="218.0" cy="670.5" r="1.9"/><circle cx="87.4" cy="786.7" r="1.9"/><circle cx="179.1" cy="729.5" r="1.9"/><circle cx="183.7" cy="721.6" r="1.9"/><circle cx="146.9" cy="770.6" r="1.9"/><circle cx="165.5" cy="750.9" r="1.9"/><circle cx="243.6" cy="654.7" r="1.9"/><circle cx="203.2" cy="688.6" r="1.9"/><circle cx="118.1" cy="783.3" r="1.9"/><circle cx="169.3" cy="745.5" r="1.9"/><circle cx="163.2" cy="754.0" r="1.9"/><circle cx="182.1" cy="724.4" r="1.9"/><circle cx="193.1" cy="705.0" r="1.9"/><circle cx="192.9" cy="705.3" r="1.9"/><circle cx="159.6" cy="758.4" r="1.9"/><circle cx="187.8" cy="714.2" r="1.9"/><circle cx="188.7" cy="712.7" r="1.9"/><circle cx="108.4" cy="784.9" r="1.9"/><circle cx="238.9" cy="656.5" r="1.9"/><circle cx="114.2" cy="784.0" r="1.9"/><circle cx="235.8" cy="657.9" r="1.9"/><circle cx="218.0" cy="670.6" r="1.9"/><circle cx="163.9" cy="753.1" r="1.9"/><circle cx="220.9" cy="667.8" r="1.9"/><circle cx="178.3" cy="731.0" r="1.9"/><circle cx="217.6" cy="670.9" r="1.9"/><circle cx="110.4" cy="784.6" r="1.9"/><circle cx="193.4" cy="704.4" r="1.9"/><circle cx="119.2" cy="783.0" r="1.9"/><circle cx="242.9" cy="654.9" r="1.9"/><circle cx="102.2" cy="785.6" r="1.9"/><circle cx="202.3" cy="690.0" r="1.9"/><circle cx="191.0" cy="708.6" r="1.9"/><circle cx="196.1" cy="699.8" r="1.9"/><circle cx="166.6" cy="749.4" r="1.9"/><circle cx="216.5" cy="672.0" r="1.9"/><circle cx="192.5" cy="706.0" r="1.9"/><circle cx="181.3" cy="725.8" r="1.9"/><circle cx="116.0" cy="783.7" r="1.9"/><circle cx="148.8" cy="769.1" r="1.9"/><circle cx="177.7" cy="732.0" r="1.9"/><circle cx="133.4" cy="778.5" r="1.9"/><circle cx="132.1" cy="779.0" r="1.9"/><circle cx="153.2" cy="765.3" r="1.9"/><circle cx="242.9" cy="654.9" r="1.9"/><circle cx="188.6" cy="712.7" r="1.9"/><circle cx="186.5" cy="716.6" r="1.9"/><circle cx="185.5" cy="718.3" r="1.9"/><circle cx="177.8" cy="731.7" r="1.9"/><circle cx="139.2" cy="775.6" r="1.9"/><circle cx="208.7" cy="681.0" r="1.9"/><circle cx="139.6" cy="775.4" r="1.9"/><circle cx="152.9" cy="765.6" r="1.9"/><circle cx="157.9" cy="760.4" r="1.9"/><circle cx="199.4" cy="694.5" r="1.9"/><circle cx="173.0" cy="739.7" r="1.9"/><circle cx="116.8" cy="783.5" r="1.9"/><circle cx="204.1" cy="687.3" r="1.9"/><circle cx="205.1" cy="686.0" r="1.9"/><circle cx="162.5" cy="754.8" r="1.9"/><circle cx="199.0" cy="695.2" r="1.9"/><circle cx="176.9" cy="733.4" r="1.9"/><circle cx="230.1" cy="661.0" r="1.9"/><circle cx="231.0" cy="660.5" r="1.9"/><circle cx="213.4" cy="675.4" r="1.9"/><circle cx="197.6" cy="697.5" r="1.9"/><circle cx="249.2" cy="653.0" r="1.9"/><circle cx="240.1" cy="656.0" r="1.9"/><circle cx="162.7" cy="754.7" r="1.9"/><circle cx="182.4" cy="723.8" r="1.9"/><circle cx="135.1" cy="777.7" r="1.9"/><circle cx="99.2" cy="785.9" r="1.9"/><circle cx="157.4" cy="761.0" r="1.9"/><circle cx="198.8" cy="695.5" r="1.9"/><circle cx="150.5" cy="767.7" r="1.9"/><circle cx="167.9" cy="747.5" r="1.9"/><circle cx="218.7" cy="669.9" r="1.9"/><circle cx="156.8" cy="761.6" r="1.9"/><circle cx="111.7" cy="784.4" r="1.9"/><circle cx="179.3" cy="729.2" r="1.9"/><circle cx="148.0" cy="769.8" r="1.9"/><circle cx="165.2" cy="751.3" r="1.9"/><circle cx="159.1" cy="759.0" r="1.9"/><circle cx="220.6" cy="668.1" r="1.9"/><circle cx="213.5" cy="675.3" r="1.9"/><circle cx="190.9" cy="708.8" r="1.9"/><circle cx="179.8" cy="728.4" r="1.9"/><circle cx="119.2" cy="783.0" r="1.9"/><circle cx="129.9" cy="779.9" r="1.9"/><circle cx="264.4" cy="650.1" r="1.9"/><circle cx="123.2" cy="782.0" r="1.9"/><circle cx="158.0" cy="760.3" r="1.9"/><circle cx="154.5" cy="763.9" r="1.9"/><circle cx="179.0" cy="729.7" r="1.9"/><circle cx="131.7" cy="779.2" r="1.9"/><circle cx="223.6" cy="665.6" r="1.9"/><circle cx="145.1" cy="771.9" r="1.9"/><circle cx="189.4" cy="711.4" r="1.9"/><circle cx="175.3" cy="736.0" r="1.9"/><circle cx="186.8" cy="716.1" r="1.9"/><circle cx="139.4" cy="775.5" r="1.9"/><circle cx="203.5" cy="688.2" r="1.9"/><circle cx="188.3" cy="713.3" r="1.9"/><circle cx="151.6" cy="766.7" r="1.9"/><circle cx="264.3" cy="650.2" r="1.9"/><circle cx="178.6" cy="730.4" r="1.9"/><circle cx="155.0" cy="763.4" r="1.9"/><circle cx="175.3" cy="735.9" r="1.9"/><circle cx="140.1" cy="775.1" r="1.9"/><circle cx="135.4" cy="777.6" r="1.9"/><circle cx="170.8" cy="743.3" r="1.9"/><circle cx="114.8" cy="783.9" r="1.9"/><circle cx="141.4" cy="774.4" r="1.9"/><circle cx="211.5" cy="677.6" r="1.9"/><circle cx="177.7" cy="731.9" r="1.9"/><circle cx="211.4" cy="677.6" r="1.9"/><circle cx="178.3" cy="731.0" r="1.9"/><circle cx="199.9" cy="693.7" r="1.9"/><circle cx="203.4" cy="688.4" r="1.9"/><circle cx="215.3" cy="673.3" r="1.9"/><circle cx="127.3" cy="780.8" r="1.9"/><circle cx="221.4" cy="667.4" r="1.9"/><circle cx="234.5" cy="658.5" r="1.9"/><circle cx="195.4" cy="701.1" r="1.9"/><circle cx="117.1" cy="783.5" r="1.9"/><circle cx="163.7" cy="753.3" r="1.9"/><circle cx="203.7" cy="687.9" r="1.9"/><circle cx="168.3" cy="747.0" r="1.9"/><circle cx="182.5" cy="723.6" r="1.9"/><circle cx="192.6" cy="705.8" r="1.9"/><circle cx="114.1" cy="784.0" r="1.9"/><circle cx="148.9" cy="769.0" r="1.9"/><circle cx="91.2" cy="786.5" r="1.9"/><circle cx="128.6" cy="780.4" r="1.9"/><circle cx="123.5" cy="782.0" r="1.9"/><circle cx="175.2" cy="736.2" r="1.9"/><circle cx="180.6" cy="727.0" r="1.9"/><circle cx="142.2" cy="773.9" r="1.9"/><circle cx="177.4" cy="732.4" r="1.9"/><circle cx="174.0" cy="738.1" r="1.9"/><circle cx="216.0" cy="672.6" r="1.9"/><circle cx="169.5" cy="745.2" r="1.9"/><circle cx="133.8" cy="778.3" r="1.9"/><circle cx="209.7" cy="679.8" r="1.9"/><circle cx="170.8" cy="743.3" r="1.9"/><circle cx="122.8" cy="782.1" r="1.9"/><circle cx="111.2" cy="784.5" r="1.9"/><circle cx="166.2" cy="750.0" r="1.9"/><circle cx="254.8" cy="651.7" r="1.9"/><circle cx="197.4" cy="697.7" r="1.9"/><circle cx="179.5" cy="728.9" r="1.9"/><circle cx="210.9" cy="678.3" r="1.9"/><circle cx="203.6" cy="688.1" r="1.9"/><circle cx="187.1" cy="715.4" r="1.9"/><circle cx="202.8" cy="689.3" r="1.9"/><circle cx="107.0" cy="785.1" r="1.9"/><circle cx="178.5" cy="730.5" r="1.9"/><circle cx="146.0" cy="771.3" r="1.9"/><circle cx="164.8" cy="751.9" r="1.9"/><circle cx="159.7" cy="758.3" r="1.9"/><circle cx="185.3" cy="718.7" r="1.9"/><circle cx="120.4" cy="782.8" r="1.9"/><circle cx="132.1" cy="779.0" r="1.9"/><circle cx="198.4" cy="696.0" r="1.9"/><circle cx="194.4" cy="702.7" r="1.9"/><circle cx="204.6" cy="686.7" r="1.9"/><circle cx="179.8" cy="728.4" r="1.9"/><circle cx="183.1" cy="722.6" r="1.9"/><circle cx="208.0" cy="682.0" r="1.9"/><circle cx="146.4" cy="771.0" r="1.9"/><circle cx="158.8" cy="759.3" r="1.9"/><circle cx="186.2" cy="717.1" r="1.9"/><circle cx="174.1" cy="738.0" r="1.9"/><circle cx="149.8" cy="768.3" r="1.9"/><circle cx="182.2" cy="724.1" r="1.9"/><circle cx="186.8" cy="715.9" r="1.9"/><circle cx="168.8" cy="746.2" r="1.9"/><circle cx="114.4" cy="784.0" r="1.9"/><circle cx="91.0" cy="786.5" r="1.9"/><circle cx="190.3" cy="709.8" r="1.9"/><circle cx="258.0" cy="651.1" r="1.9"/><circle cx="163.3" cy="753.9" r="1.9"/><circle cx="182.9" cy="722.9" r="1.9"/><circle cx="175.7" cy="735.3" r="1.9"/><circle cx="267.2" cy="649.8" r="1.9"/><circle cx="269.1" cy="649.6" r="1.9"/><circle cx="270.8" cy="649.5" r="1.9"/><circle cx="272.4" cy="649.3" r="1.9"/><circle cx="274.1" cy="649.2" r="1.9"/><circle cx="275.7" cy="649.0" r="1.9"/><circle cx="276.9" cy="649.0" r="1.9"/><circle cx="285.7" cy="648.5" r="1.9"/></g>
<rect x="57.6" y="639.4" width="244" height="209.8" fill="none" stroke="#9a9a9a" stroke-width="1"/>
<line x1="113.18" y1="849.2" x2="113.18" y2="852" stroke="#555" stroke-width="0.9"/>
<text x="113.18" y="862.3" font-size="13.3" fill="#4d4d4d" text-anchor="middle">-2.5</text>
<line x1="172.25" y1="849.2" x2="172.25" y2="852" stroke="#555" stroke-width="0.9"/>
<text x="172.25" y="862.3" font-size="13.3" fill="#4d4d4d" text-anchor="middle">0.0</text>
<line x1="231.32" y1="849.2" x2="231.32" y2="852" stroke="#555" stroke-width="0.9"/>
<text x="231.32" y="862.3" font-size="13.3" fill="#4d4d4d" text-anchor="middle">2.5</text>
<line x1="290.4" y1="849.2" x2="290.4" y2="852" stroke="#555" stroke-width="0.9"/>
<text x="290.4" y="862.3" font-size="13.3" fill="#4d4d4d" text-anchor="middle">5.0</text>
<line x1="54.8" y1="804.4" x2="57.6" y2="804.4" stroke="#555" stroke-width="0.9"/>
<text x="53.6" y="809.72" font-size="13.3" fill="#4d4d4d" text-anchor="end">3220</text>
<line x1="54.8" y1="748.4" x2="57.6" y2="748.4" stroke="#555" stroke-width="0.9"/>
<text x="53.6" y="753.72" font-size="13.3" fill="#4d4d4d" text-anchor="end">3240</text>
<line x1="54.8" y1="692.4" x2="57.6" y2="692.4" stroke="#555" stroke-width="0.9"/>
<text x="53.6" y="697.72" font-size="13.3" fill="#4d4d4d" text-anchor="end">3260</text>
<text x="179.6" y="877" font-size="15" fill="#000" text-anchor="middle">Hormone</text>
<text x="0" y="0" font-size="15" fill="#000" text-anchor="middle" transform="translate(20.8,744.3) rotate(-90)">Birth Weight</text>
<text x="68.6" y="806.6" font-size="15" fill="#000">Pesticide</text>
<circle cx="74.4" cy="822.4" r="2" fill="#4d4d4d"/>
<circle cx="74.4" cy="834.4" r="2" fill="#a3a3a3"/>
<text x="88" y="827" font-size="13.75" fill="#000">High exposure</text>
<text x="88" y="839.4" font-size="13.75" fill="#000">Low exposure</text>
</g>
<g>
<line x1="478.6" y1="13.4" x2="478.6" y2="190.2" stroke="#f2f2f2" stroke-width="0.7"/>
<line x1="550.6" y1="13.4" x2="550.6" y2="190.2" stroke="#f2f2f2" stroke-width="0.7"/>
<line x1="622.6" y1="13.4" x2="622.6" y2="190.2" stroke="#f2f2f2" stroke-width="0.7"/>
<line x1="417.4" y1="162.05" x2="673.6" y2="162.05" stroke="#f2f2f2" stroke-width="0.7"/>
<line x1="417.4" y1="121.75" x2="673.6" y2="121.75" stroke="#f2f2f2" stroke-width="0.7"/>
<line x1="417.4" y1="81.45" x2="673.6" y2="81.45" stroke="#f2f2f2" stroke-width="0.7"/>
<line x1="417.4" y1="41.15" x2="673.6" y2="41.15" stroke="#f2f2f2" stroke-width="0.7"/>
<line x1="442.6" y1="13.4" x2="442.6" y2="190.2" stroke="#ebebeb" stroke-width="0.9"/>
<line x1="514.6" y1="13.4" x2="514.6" y2="190.2" stroke="#ebebeb" stroke-width="0.9"/>
<line x1="586.6" y1="13.4" x2="586.6" y2="190.2" stroke="#ebebeb" stroke-width="0.9"/>
<line x1="658.6" y1="13.4" x2="658.6" y2="190.2" stroke="#ebebeb" stroke-width="0.9"/>
<line x1="417.4" y1="182.2" x2="673.6" y2="182.2" stroke="#ebebeb" stroke-width="0.9"/>
<line x1="417.4" y1="141.9" x2="673.6" y2="141.9" stroke="#ebebeb" stroke-width="0.9"/>
<line x1="417.4" y1="101.6" x2="673.6" y2="101.6" stroke="#ebebeb" stroke-width="0.9"/>
<line x1="417.4" y1="61.3" x2="673.6" y2="61.3" stroke="#ebebeb" stroke-width="0.9"/>
<line x1="417.4" y1="21" x2="673.6" y2="21" stroke="#ebebeb" stroke-width="0.9"/>
<polyline points="439.4,181.9 511.4,181.6 583.4,180.9 655.4,179.8" fill="none" stroke="#00BA38" stroke-width="0.85" stroke-dasharray="1 2" opacity="0.8"/>
<polyline points="439.4,37.4 511.4,36.5 583.4,36.3 655.4,35.5" fill="none" stroke="#619CFF" stroke-width="0.85" stroke-dasharray="1 2" opacity="0.8"/>
<polyline points="446.2,182.2 518.2,179.0 590.2,150.0 662.2,110.6" fill="none" stroke="#F8766D" stroke-width="0.9" stroke-dasharray="4 3"/>
<polyline points="446.2,182.2 518.2,180.6 590.2,156.4 662.2,118.0" fill="none" stroke="#00BA38" stroke-width="0.9" stroke-dasharray="4 3"/>
<polyline points="446.2,33.4 518.2,32.4 590.2,31.5 662.2,30.7" fill="none" stroke="#619CFF" stroke-width="0.9" stroke-dasharray="4 3"/>
<polyline points="442.6,33.9 514.6,32.3 586.6,30.7 658.6,29.9" fill="none" stroke="#F8766D" stroke-width="0.85"/>
<polyline points="442.6,29.9 514.6,29.9 586.6,29.1 658.6,29.1" fill="none" stroke="#00BA38" stroke-width="0.85"/>
<polyline points="442.6,27.8 514.6,28.7 586.6,28.3 658.6,27.8" fill="none" stroke="#619CFF" stroke-width="0.85"/>
<line x1="417.4" y1="29.06" x2="673.6" y2="29.06" stroke="#dd5a5a" stroke-width="1.0" stroke-dasharray="5 2.45"/>
<line x1="417.4" y1="37.12" x2="673.6" y2="37.12" stroke="#d84a4a" stroke-width="1.1" stroke-dasharray="5 2.45"/>
<line x1="417.4" y1="45.18" x2="673.6" y2="45.18" stroke="#c94040" stroke-width="1.3" stroke-dasharray="5 2.45"/>
<path d="M439.4,179.6 L441.8,183.6 L436.9,183.6 Z" fill="none" stroke="#00BA38" stroke-width="0.7"/>
<path d="M511.4,179.3 L513.8,183.3 L508.9,183.3 Z" fill="none" stroke="#00BA38" stroke-width="0.7"/>
<path d="M583.4,178.6 L585.8,182.6 L580.9,182.6 Z" fill="none" stroke="#00BA38" stroke-width="0.7"/>
<path d="M655.4,177.5 L657.8,181.5 L652.9,181.5 Z" fill="none" stroke="#00BA38" stroke-width="0.7"/>
<path d="M439.4,35.1 L441.8,39.2 L436.9,39.2 Z" fill="none" stroke="#619CFF" stroke-width="0.7"/>
<path d="M511.4,34.2 L513.8,38.2 L508.9,38.2 Z" fill="none" stroke="#619CFF" stroke-width="0.7"/>
<path d="M583.4,34.0 L585.8,38.0 L580.9,38.0 Z" fill="none" stroke="#619CFF" stroke-width="0.7"/>
<path d="M655.4,33.2 L657.8,37.2 L652.9,37.2 Z" fill="none" stroke="#619CFF" stroke-width="0.7"/>
<circle cx="446.2" cy="182.2" r="2" fill="none" stroke="#F8766D" stroke-width="0.7"/>
<circle cx="518.2" cy="179.0" r="2" fill="none" stroke="#F8766D" stroke-width="0.7"/>
<circle cx="590.2" cy="150.0" r="2" fill="none" stroke="#F8766D" stroke-width="0.7"/>
<circle cx="662.2" cy="110.6" r="2" fill="none" stroke="#F8766D" stroke-width="0.7"/>
<circle cx="446.2" cy="182.2" r="2" fill="none" stroke="#00BA38" stroke-width="0.7"/>
<circle cx="518.2" cy="180.6" r="2" fill="none" stroke="#00BA38" stroke-width="0.7"/>
<circle cx="590.2" cy="156.4" r="2" fill="none" stroke="#00BA38" stroke-width="0.7"/>
<circle cx="662.2" cy="118.0" r="2" fill="none" stroke="#00BA38" stroke-width="0.7"/>
<circle cx="446.2" cy="33.4" r="2" fill="none" stroke="#619CFF" stroke-width="0.7"/>
<circle cx="518.2" cy="32.4" r="2" fill="none" stroke="#619CFF" stroke-width="0.7"/>
<circle cx="590.2" cy="31.5" r="2" fill="none" stroke="#619CFF" stroke-width="0.7"/>
<circle cx="662.2" cy="30.7" r="2" fill="none" stroke="#619CFF" stroke-width="0.7"/>
<path d="M440.7,32.0 L444.5,35.8 M444.5,32.0 L440.7,35.8" stroke="#F8766D" stroke-width="0.8"/>
<path d="M512.7,30.4 L516.5,34.2 M516.5,30.4 L512.7,34.2" stroke="#F8766D" stroke-width="0.8"/>
<path d="M584.7,28.8 L588.5,32.6 M588.5,28.8 L584.7,32.6" stroke="#F8766D" stroke-width="0.8"/>
<path d="M656.7,28.0 L660.5,31.8 M660.5,28.0 L656.7,31.8" stroke="#F8766D" stroke-width="0.8"/>
<path d="M440.7,28.0 L444.5,31.8 M444.5,28.0 L440.7,31.8" stroke="#00BA38" stroke-width="0.8"/>
<path d="M512.7,28.0 L516.5,31.8 M516.5,28.0 L512.7,31.8" stroke="#00BA38" stroke-width="0.8"/>
<path d="M584.7,27.2 L588.5,31.0 M588.5,27.2 L584.7,31.0" stroke="#00BA38" stroke-width="0.8"/>
<path d="M656.7,27.2 L660.5,31.0 M660.5,27.2 L656.7,31.0" stroke="#00BA38" stroke-width="0.8"/>
<path d="M440.7,25.9 L444.5,29.7 M444.5,25.9 L440.7,29.7" stroke="#619CFF" stroke-width="0.8"/>
<path d="M512.7,26.8 L516.5,30.6 M516.5,26.8 L512.7,30.6" stroke="#619CFF" stroke-width="0.8"/>
<path d="M584.7,26.4 L588.5,30.2 M588.5,26.4 L584.7,30.2" stroke="#619CFF" stroke-width="0.8"/>
<path d="M656.7,25.9 L660.5,29.7 M660.5,25.9 L656.7,29.7" stroke="#619CFF" stroke-width="0.8"/>
<text x="422" y="31.96" font-size="8.1" fill="#cc3333">0.95</text>
<text x="422" y="40.02" font-size="8.1" fill="#cc3333">0.90</text>
<text x="422" y="48.08" font-size="8.1" fill="#cc3333">0.85</text>
<rect x="417.4" y="13.4" width="256.2" height="176.8" fill="none" stroke="#9a9a9a" stroke-width="1"/>
<line x1="442.6" y1="190.2" x2="442.6" y2="192.8" stroke="#555" stroke-width="0.8"/>
<text x="442.6" y="200.6" font-size="9.8" fill="#4d4d4d" text-anchor="middle">10</text>
<line x1="514.6" y1="190.2" x2="514.6" y2="192.8" stroke="#555" stroke-width="0.8"/>
<text x="514.6" y="200.6" font-size="9.8" fill="#4d4d4d" text-anchor="middle">20</text>
<line x1="586.6" y1="190.2" x2="586.6" y2="192.8" stroke="#555" stroke-width="0.8"/>
<text x="586.6" y="200.6" font-size="9.8" fill="#4d4d4d" text-anchor="middle">30</text>
<line x1="658.6" y1="190.2" x2="658.6" y2="192.8" stroke="#555" stroke-width="0.8"/>
<text x="658.6" y="200.6" font-size="9.8" fill="#4d4d4d" text-anchor="middle">40</text>
<line x1="414.8" y1="182.2" x2="417.4" y2="182.2" stroke="#555" stroke-width="0.8"/>
<text x="413.8" y="185.6" font-size="9.8" fill="#4d4d4d" text-anchor="end">0.00</text>
<line x1="414.8" y1="141.9" x2="417.4" y2="141.9" stroke="#555" stroke-width="0.8"/>
<text x="413.8" y="145.3" font-size="9.8" fill="#4d4d4d" text-anchor="end">0.25</text>
<line x1="414.8" y1="101.6" x2="417.4" y2="101.6" stroke="#555" stroke-width="0.8"/>
<text x="413.8" y="105" font-size="9.8" fill="#4d4d4d" text-anchor="end">0.50</text>
<line x1="414.8" y1="61.3" x2="417.4" y2="61.3" stroke="#555" stroke-width="0.8"/>
<text x="413.8" y="64.7" font-size="9.8" fill="#4d4d4d" text-anchor="end">0.75</text>
<line x1="414.8" y1="21" x2="417.4" y2="21" stroke="#555" stroke-width="0.8"/>
<text x="413.8" y="24.4" font-size="9.8" fill="#4d4d4d" text-anchor="end">1.00</text>
<text x="545.5" y="213.2" font-size="13" fill="#000" text-anchor="middle">SD of &#949;<tspan font-size="8.5" dy="2.5">1</tspan></text>
<text x="0" y="0" font-size="13.2" fill="#000" text-anchor="middle" transform="translate(391.2,101.8) rotate(-90)">Coverage Probability</text>
<line x1="421.0" y1="235.0" x2="429.0" y2="235.0" stroke="#000" stroke-width="0.7" stroke-dasharray="0.8 1.6"/>
<path d="M425.0,233.0 L427.1,236.5 L422.9,236.5 Z" fill="none" stroke="#000" stroke-width="0.6"/>
<text x="435" y="238" font-size="9.6" fill="#000">GAM</text>
<line x1="463.0" y1="235.0" x2="471.0" y2="235.0" stroke="#000" stroke-width="0.7" stroke-dasharray="2 1.2"/>
<circle cx="467.0" cy="235.0" r="1.6" fill="#fff" stroke="#000" stroke-width="0.6"/>
<text x="476.6" y="238" font-size="9.6" fill="#000">LM</text>
<line x1="496.0" y1="235.0" x2="504.0" y2="235.0" stroke="#000" stroke-width="0.7"/>
<path d="M498.4,233.4 L501.6,236.6 M501.6,233.4 L498.4,236.6" stroke="#000" stroke-width="0.6"/>
<text x="510.6" y="238" font-size="9.6" fill="#000">Proposed</text>
<line x1="566.5" y1="235.0" x2="575.5" y2="235.0" stroke="#F8766D" stroke-width="0.9" opacity="0.6"/>
<circle cx="571.0" cy="235.0" r="1.7" fill="#F8766D"/>
<text x="580.6" y="238" font-size="9.6" fill="#000">CDE</text>
<line x1="605.5" y1="235.0" x2="614.5" y2="235.0" stroke="#00BA38" stroke-width="0.9" opacity="0.6"/>
<circle cx="610.0" cy="235.0" r="1.7" fill="#00BA38"/>
<text x="619.4" y="238" font-size="9.6" fill="#000">NDE</text>
<line x1="644.5" y1="235.0" x2="653.5" y2="235.0" stroke="#619CFF" stroke-width="0.9" opacity="0.6"/>
<circle cx="649.0" cy="235.0" r="1.7" fill="#619CFF"/>
<text x="658.6" y="238" font-size="9.6" fill="#000">NIE</text>
</g>
<g>
<line x1="486.45" y1="338.6" x2="486.45" y2="516.4" stroke="#f2f2f2" stroke-width="0.7"/>
<line x1="558.15" y1="338.6" x2="558.15" y2="516.4" stroke="#f2f2f2" stroke-width="0.7"/>
<line x1="629.85" y1="338.6" x2="629.85" y2="516.4" stroke="#f2f2f2" stroke-width="0.7"/>
<line x1="424.6" y1="488.4" x2="681.2" y2="488.4" stroke="#f2f2f2" stroke-width="0.7"/>
<line x1="424.6" y1="448" x2="681.2" y2="448" stroke="#f2f2f2" stroke-width="0.7"/>
<line x1="424.6" y1="407.6" x2="681.2" y2="407.6" stroke="#f2f2f2" stroke-width="0.7"/>
<line x1="424.6" y1="367.2" x2="681.2" y2="367.2" stroke="#f2f2f2" stroke-width="0.7"/>
<line x1="450.6" y1="338.6" x2="450.6" y2="516.4" stroke="#ebebeb" stroke-width="0.9"/>
<line x1="522.3" y1="338.6" x2="522.3" y2="516.4" stroke="#ebebeb" stroke-width="0.9"/>
<line x1="594" y1="338.6" x2="594" y2="516.4" stroke="#ebebeb" stroke-width="0.9"/>
<line x1="665.7" y1="338.6" x2="665.7" y2="516.4" stroke="#ebebeb" stroke-width="0.9"/>
<line x1="424.6" y1="508.6" x2="681.2" y2="508.6" stroke="#ebebeb" stroke-width="0.9"/>
<line x1="424.6" y1="468.2" x2="681.2" y2="468.2" stroke="#ebebeb" stroke-width="0.9"/>
<line x1="424.6" y1="427.8" x2="681.2" y2="427.8" stroke="#ebebeb" stroke-width="0.9"/>
<line x1="424.6" y1="387.4" x2="681.2" y2="387.4" stroke="#ebebeb" stroke-width="0.9"/>
<line x1="424.6" y1="347" x2="681.2" y2="347" stroke="#ebebeb" stroke-width="0.9"/>
<polyline points="447.4,508.6 519.1,502.1 590.8,450.7 662.5,419.2" fill="none" stroke="#00BA38" stroke-width="0.85" stroke-dasharray="1 2" opacity="0.8"/>
<polyline points="447.4,363.2 519.1,363.2 590.8,363.2 662.5,363.2" fill="none" stroke="#619CFF" stroke-width="0.85" stroke-dasharray="1 2" opacity="0.8"/>
<polyline points="454.2,417.5 525.9,380.0 597.6,364.9 669.3,358.3" fill="none" stroke="#F8766D" stroke-width="0.9" stroke-dasharray="4 3"/>
<polyline points="454.2,405.2 525.9,373.7 597.6,364.9 669.3,358.0" fill="none" stroke="#00BA38" stroke-width="0.9" stroke-dasharray="4 3"/>
<polyline points="454.2,358.6 525.9,356.2 597.6,356.7 669.3,355.1" fill="none" stroke="#619CFF" stroke-width="0.9" stroke-dasharray="4 3"/>
<polyline points="450.6,355.1 522.3,355.1 594.0,355.1 665.7,355.1" fill="none" stroke="#F8766D" stroke-width="0.85"/>
<polyline points="450.6,353.5 522.3,353.5 594.0,354.3 665.7,354.3" fill="none" stroke="#00BA38" stroke-width="0.85"/>
<polyline points="450.6,351.7 522.3,352.7 594.0,353.8 665.7,353.8" fill="none" stroke="#619CFF" stroke-width="0.85"/>
<line x1="424.6" y1="355.08" x2="681.2" y2="355.08" stroke="#e67a7a" stroke-width="1.1" stroke-dasharray="5 2.45"/>
<line x1="424.6" y1="363.16" x2="681.2" y2="363.16" stroke="#ea8585" stroke-width="1.2" stroke-dasharray="5 2.45"/>
<line x1="424.6" y1="371.24" x2="681.2" y2="371.24" stroke="#e87b7b" stroke-width="1.3" stroke-dasharray="5 2.45"/>
<path d="M447.4,506.3 L449.8,510.3 L445.0,510.3 Z" fill="none" stroke="#00BA38" stroke-width="0.7"/>
<path d="M519.1,499.8 L521.5,503.9 L516.7,503.9 Z" fill="none" stroke="#00BA38" stroke-width="0.7"/>
<path d="M590.8,448.4 L593.2,452.5 L588.4,452.5 Z" fill="none" stroke="#00BA38" stroke-width="0.7"/>
<path d="M662.5,416.9 L664.9,421.0 L660.1,421.0 Z" fill="none" stroke="#00BA38" stroke-width="0.7"/>
<path d="M447.4,360.9 L449.8,364.9 L445.0,364.9 Z" fill="none" stroke="#619CFF" stroke-width="0.7"/>
<path d="M519.1,360.9 L521.5,364.9 L516.7,364.9 Z" fill="none" stroke="#619CFF" stroke-width="0.7"/>
<path d="M590.8,360.9 L593.2,364.9 L588.4,364.9 Z" fill="none" stroke="#619CFF" stroke-width="0.7"/>
<path d="M662.5,360.9 L664.9,364.9 L660.1,364.9 Z" fill="none" stroke="#619CFF" stroke-width="0.7"/>
<circle cx="454.2" cy="417.5" r="2" fill="none" stroke="#F8766D" stroke-width="0.7"/>
<circle cx="525.9" cy="380.0" r="2" fill="none" stroke="#F8766D" stroke-width="0.7"/>
<circle cx="597.6" cy="364.9" r="2" fill="none" stroke="#F8766D" stroke-width="0.7"/>
<circle cx="669.3" cy="358.3" r="2" fill="none" stroke="#F8766D" stroke-width="0.7"/>
<circle cx="454.2" cy="405.2" r="2" fill="none" stroke="#00BA38" stroke-width="0.7"/>
<circle cx="525.9" cy="373.7" r="2" fill="none" stroke="#00BA38" stroke-width="0.7"/>
<circle cx="597.6" cy="364.9" r="2" fill="none" stroke="#00BA38" stroke-width="0.7"/>
<circle cx="669.3" cy="358.0" r="2" fill="none" stroke="#00BA38" stroke-width="0.7"/>
<circle cx="454.2" cy="358.6" r="2" fill="none" stroke="#619CFF" stroke-width="0.7"/>
<circle cx="525.9" cy="356.2" r="2" fill="none" stroke="#619CFF" stroke-width="0.7"/>
<circle cx="597.6" cy="356.7" r="2" fill="none" stroke="#619CFF" stroke-width="0.7"/>
<circle cx="669.3" cy="355.1" r="2" fill="none" stroke="#619CFF" stroke-width="0.7"/>
<path d="M448.7,353.2 L452.5,357.0 M452.5,353.2 L448.7,357.0" stroke="#F8766D" stroke-width="0.8"/>
<path d="M520.4,353.2 L524.2,357.0 M524.2,353.2 L520.4,357.0" stroke="#F8766D" stroke-width="0.8"/>
<path d="M592.1,353.2 L595.9,357.0 M595.9,353.2 L592.1,357.0" stroke="#F8766D" stroke-width="0.8"/>
<path d="M663.8,353.2 L667.6,357.0 M667.6,353.2 L663.8,357.0" stroke="#F8766D" stroke-width="0.8"/>
<path d="M448.7,351.6 L452.5,355.4 M452.5,351.6 L448.7,355.4" stroke="#00BA38" stroke-width="0.8"/>
<path d="M520.4,351.6 L524.2,355.4 M524.2,351.6 L520.4,355.4" stroke="#00BA38" stroke-width="0.8"/>
<path d="M592.1,352.4 L595.9,356.2 M595.9,352.4 L592.1,356.2" stroke="#00BA38" stroke-width="0.8"/>
<path d="M663.8,352.4 L667.6,356.2 M667.6,352.4 L663.8,356.2" stroke="#00BA38" stroke-width="0.8"/>
<path d="M448.7,349.8 L452.5,353.6 M452.5,349.8 L448.7,353.6" stroke="#619CFF" stroke-width="0.8"/>
<path d="M520.4,350.8 L524.2,354.6 M524.2,350.8 L520.4,354.6" stroke="#619CFF" stroke-width="0.8"/>
<path d="M592.1,351.9 L595.9,355.7 M595.9,351.9 L592.1,355.7" stroke="#619CFF" stroke-width="0.8"/>
<path d="M663.8,351.9 L667.6,355.7 M667.6,351.9 L663.8,355.7" stroke="#619CFF" stroke-width="0.8"/>
<text x="429.2" y="357.98" font-size="8.1" fill="#cc3333">0.95</text>
<text x="429.2" y="366.06" font-size="8.1" fill="#cc3333">0.90</text>
<text x="429.2" y="374.14" font-size="8.1" fill="#cc3333">0.85</text>
<rect x="424.6" y="338.6" width="256.6" height="177.8" fill="none" stroke="#d0d0d0" stroke-width="1"/>
<line x1="450.6" y1="516.4" x2="450.6" y2="519" stroke="#555" stroke-width="0.8"/>
<text x="450.6" y="526.3" font-size="9.8" fill="#4d4d4d" text-anchor="middle">10</text>
<line x1="522.3" y1="516.4" x2="522.3" y2="519" stroke="#555" stroke-width="0.8"/>
<text x="522.3" y="526.3" font-size="9.8" fill="#4d4d4d" text-anchor="middle">20</text>
<line x1="594" y1="516.4" x2="594" y2="519" stroke="#555" stroke-width="0.8"/>
<text x="594" y="526.3" font-size="9.8" fill="#4d4d4d" text-anchor="middle">30</text>
<line x1="665.7" y1="516.4" x2="665.7" y2="519" stroke="#555" stroke-width="0.8"/>
<text x="665.7" y="526.3" font-size="9.8" fill="#4d4d4d" text-anchor="middle">40</text>
<line x1="422" y1="508.6" x2="424.6" y2="508.6" stroke="#555" stroke-width="0.8"/>
<text x="421" y="512" font-size="9.8" fill="#4d4d4d" text-anchor="end">0.00</text>
<line x1="422" y1="468.2" x2="424.6" y2="468.2" stroke="#555" stroke-width="0.8"/>
<text x="421" y="471.6" font-size="9.8" fill="#4d4d4d" text-anchor="end">0.25</text>
<line x1="422" y1="427.8" x2="424.6" y2="427.8" stroke="#555" stroke-width="0.8"/>
<text x="421" y="431.2" font-size="9.8" fill="#4d4d4d" text-anchor="end">0.50</text>
<line x1="422" y1="387.4" x2="424.6" y2="387.4" stroke="#555" stroke-width="0.8"/>
<text x="421" y="390.8" font-size="9.8" fill="#4d4d4d" text-anchor="end">0.75</text>
<line x1="422" y1="347" x2="424.6" y2="347" stroke="#555" stroke-width="0.8"/>
<text x="421" y="350.4" font-size="9.8" fill="#4d4d4d" text-anchor="end">1.00</text>
<text x="552.9" y="539.5" font-size="13" fill="#000" text-anchor="middle">SD of &#949;<tspan font-size="8.5" dy="2.5">1</tspan></text>
<text x="0" y="0" font-size="13.2" fill="#000" text-anchor="middle" transform="translate(400,427.5) rotate(-90)">Coverage Probability</text>
<line x1="428.6" y1="560.6" x2="436.6" y2="560.6" stroke="#000" stroke-width="0.7" stroke-dasharray="0.8 1.6"/>
<path d="M432.6,558.6 L434.7,562.1 L430.5,562.1 Z" fill="none" stroke="#000" stroke-width="0.6"/>
<text x="442.6" y="563.6" font-size="9.6" fill="#000">GAM</text>
<line x1="470.6" y1="560.6" x2="478.6" y2="560.6" stroke="#000" stroke-width="0.7" stroke-dasharray="2 1.2"/>
<circle cx="474.6" cy="560.6" r="1.6" fill="#fff" stroke="#000" stroke-width="0.6"/>
<text x="484.2" y="563.6" font-size="9.6" fill="#000">LM</text>
<line x1="503.6" y1="560.6" x2="511.6" y2="560.6" stroke="#000" stroke-width="0.7"/>
<path d="M506.0,559.0 L509.2,562.2 M509.2,559.0 L506.0,562.2" stroke="#000" stroke-width="0.6"/>
<text x="518.2" y="563.6" font-size="9.6" fill="#000">Proposed</text>
<line x1="574.1" y1="560.6" x2="583.1" y2="560.6" stroke="#F8766D" stroke-width="0.9" opacity="0.6"/>
<circle cx="578.6" cy="560.6" r="1.7" fill="#F8766D"/>
<text x="588.2" y="563.6" font-size="9.6" fill="#000">CDE</text>
<line x1="613.1" y1="560.6" x2="622.1" y2="560.6" stroke="#00BA38" stroke-width="0.9" opacity="0.6"/>
<circle cx="617.6" cy="560.6" r="1.7" fill="#00BA38"/>
<text x="627" y="563.6" font-size="9.6" fill="#000">NDE</text>
<line x1="652.1" y1="560.6" x2="661.1" y2="560.6" stroke="#619CFF" stroke-width="0.9" opacity="0.6"/>
<circle cx="656.6" cy="560.6" r="1.7" fill="#619CFF"/>
<text x="666.2" y="563.6" font-size="9.6" fill="#000">NIE</text>
</g>
<g>
<line x1="479.15" y1="649.4" x2="479.15" y2="826.2" stroke="#f2f2f2" stroke-width="0.7"/>
<line x1="551.05" y1="649.4" x2="551.05" y2="826.2" stroke="#f2f2f2" stroke-width="0.7"/>
<line x1="622.95" y1="649.4" x2="622.95" y2="826.2" stroke="#f2f2f2" stroke-width="0.7"/>
<line x1="417.4" y1="798.14" x2="673.6" y2="798.14" stroke="#f2f2f2" stroke-width="0.7"/>
<line x1="417.4" y1="758.01" x2="673.6" y2="758.01" stroke="#f2f2f2" stroke-width="0.7"/>
<line x1="417.4" y1="717.89" x2="673.6" y2="717.89" stroke="#f2f2f2" stroke-width="0.7"/>
<line x1="417.4" y1="677.76" x2="673.6" y2="677.76" stroke="#f2f2f2" stroke-width="0.7"/>
<line x1="443.2" y1="649.4" x2="443.2" y2="826.2" stroke="#ebebeb" stroke-width="0.9"/>
<line x1="515.1" y1="649.4" x2="515.1" y2="826.2" stroke="#ebebeb" stroke-width="0.9"/>
<line x1="587" y1="649.4" x2="587" y2="826.2" stroke="#ebebeb" stroke-width="0.9"/>
<line x1="658.9" y1="649.4" x2="658.9" y2="826.2" stroke="#ebebeb" stroke-width="0.9"/>
<line x1="417.4" y1="818.2" x2="673.6" y2="818.2" stroke="#ebebeb" stroke-width="0.9"/>
<line x1="417.4" y1="778.08" x2="673.6" y2="778.08" stroke="#ebebeb" stroke-width="0.9"/>
<line x1="417.4" y1="737.95" x2="673.6" y2="737.95" stroke="#ebebeb" stroke-width="0.9"/>
<line x1="417.4" y1="697.83" x2="673.6" y2="697.83" stroke="#ebebeb" stroke-width="0.9"/>
<line x1="417.4" y1="657.7" x2="673.6" y2="657.7" stroke="#ebebeb" stroke-width="0.9"/>
<polyline points="440.0,818.2 511.9,817.9 583.8,817.9 655.7,816.6" fill="none" stroke="#00BA38" stroke-width="0.85" stroke-dasharray="1 2" opacity="0.8"/>
<polyline points="440.0,818.2 511.9,807.0 583.8,771.7 655.7,737.1" fill="none" stroke="#619CFF" stroke-width="0.85" stroke-dasharray="1 2" opacity="0.8"/>
<polyline points="446.8,818.2 518.7,816.6 590.6,794.9 662.5,762.0" fill="none" stroke="#F8766D" stroke-width="0.9" stroke-dasharray="4 3"/>
<polyline points="446.8,818.2 518.7,816.9 590.6,796.5 662.5,764.4" fill="none" stroke="#00BA38" stroke-width="0.9" stroke-dasharray="4 3"/>
<polyline points="446.8,797.3 518.7,733.1 590.6,699.8 662.5,686.6" fill="none" stroke="#619CFF" stroke-width="0.9" stroke-dasharray="4 3"/>
<polyline points="443.2,668.9 515.1,667.3 587.0,666.8 658.9,666.5" fill="none" stroke="#F8766D" stroke-width="0.85"/>
<polyline points="443.2,666.0 515.1,666.0 587.0,666.0 658.9,665.7" fill="none" stroke="#00BA38" stroke-width="0.85"/>
<polyline points="443.2,673.8 515.1,668.9 587.0,667.7 658.9,667.3" fill="none" stroke="#619CFF" stroke-width="0.85"/>
<line x1="417.4" y1="665.73" x2="673.6" y2="665.73" stroke="#dd5a5a" stroke-width="1.0" stroke-dasharray="5 2.45"/>
<line x1="417.4" y1="673.75" x2="673.6" y2="673.75" stroke="#d84a4a" stroke-width="1.1" stroke-dasharray="5 2.45"/>
<line x1="417.4" y1="681.78" x2="673.6" y2="681.78" stroke="#c94040" stroke-width="1.3" stroke-dasharray="5 2.45"/>
<path d="M440.0,815.9 L442.4,819.9 L437.5,819.9 Z" fill="none" stroke="#00BA38" stroke-width="0.7"/>
<path d="M511.9,815.6 L514.3,819.6 L509.4,819.6 Z" fill="none" stroke="#00BA38" stroke-width="0.7"/>
<path d="M583.8,815.6 L586.2,819.6 L581.3,819.6 Z" fill="none" stroke="#00BA38" stroke-width="0.7"/>
<path d="M655.7,814.3 L658.1,818.3 L653.2,818.3 Z" fill="none" stroke="#00BA38" stroke-width="0.7"/>
<path d="M440.0,815.9 L442.4,819.9 L437.5,819.9 Z" fill="none" stroke="#619CFF" stroke-width="0.7"/>
<path d="M511.9,804.7 L514.3,808.7 L509.4,808.7 Z" fill="none" stroke="#619CFF" stroke-width="0.7"/>
<path d="M583.8,769.4 L586.2,773.4 L581.3,773.4 Z" fill="none" stroke="#619CFF" stroke-width="0.7"/>
<path d="M655.7,734.8 L658.1,738.9 L653.2,738.9 Z" fill="none" stroke="#619CFF" stroke-width="0.7"/>
<circle cx="446.8" cy="818.2" r="2" fill="none" stroke="#F8766D" stroke-width="0.7"/>
<circle cx="518.7" cy="816.6" r="2" fill="none" stroke="#F8766D" stroke-width="0.7"/>
<circle cx="590.6" cy="794.9" r="2" fill="none" stroke="#F8766D" stroke-width="0.7"/>
<circle cx="662.5" cy="762.0" r="2" fill="none" stroke="#F8766D" stroke-width="0.7"/>
<circle cx="446.8" cy="818.2" r="2" fill="none" stroke="#00BA38" stroke-width="0.7"/>
<circle cx="518.7" cy="816.9" r="2" fill="none" stroke="#00BA38" stroke-width="0.7"/>
<circle cx="590.6" cy="796.5" r="2" fill="none" stroke="#00BA38" stroke-width="0.7"/>
<circle cx="662.5" cy="764.4" r="2" fill="none" stroke="#00BA38" stroke-width="0.7"/>
<circle cx="446.8" cy="797.3" r="2" fill="none" stroke="#619CFF" stroke-width="0.7"/>
<circle cx="518.7" cy="733.1" r="2" fill="none" stroke="#619CFF" stroke-width="0.7"/>
<circle cx="590.6" cy="699.8" r="2" fill="none" stroke="#619CFF" stroke-width="0.7"/>
<circle cx="662.5" cy="686.6" r="2" fill="none" stroke="#619CFF" stroke-width="0.7"/>
<path d="M441.3,667.0 L445.1,670.8 M445.1,667.0 L441.3,670.8" stroke="#F8766D" stroke-width="0.8"/>
<path d="M513.2,665.4 L517.0,669.2 M517.0,665.4 L513.2,669.2" stroke="#F8766D" stroke-width="0.8"/>
<path d="M585.1,664.9 L588.9,668.7 M588.9,664.9 L585.1,668.7" stroke="#F8766D" stroke-width="0.8"/>
<path d="M657.0,664.6 L660.8,668.4 M660.8,664.6 L657.0,668.4" stroke="#F8766D" stroke-width="0.8"/>
<path d="M441.3,664.1 L445.1,667.9 M445.1,664.1 L441.3,667.9" stroke="#00BA38" stroke-width="0.8"/>
<path d="M513.2,664.1 L517.0,667.9 M517.0,664.1 L513.2,667.9" stroke="#00BA38" stroke-width="0.8"/>
<path d="M585.1,664.1 L588.9,667.9 M588.9,664.1 L585.1,667.9" stroke="#00BA38" stroke-width="0.8"/>
<path d="M657.0,663.8 L660.8,667.6 M660.8,663.8 L657.0,667.6" stroke="#00BA38" stroke-width="0.8"/>
<path d="M441.3,671.9 L445.1,675.6 M445.1,671.9 L441.3,675.6" stroke="#619CFF" stroke-width="0.8"/>
<path d="M513.2,667.0 L517.0,670.8 M517.0,667.0 L513.2,670.8" stroke="#619CFF" stroke-width="0.8"/>
<path d="M585.1,665.8 L588.9,669.6 M588.9,665.8 L585.1,669.6" stroke="#619CFF" stroke-width="0.8"/>
<path d="M657.0,665.4 L660.8,669.2 M660.8,665.4 L657.0,669.2" stroke="#619CFF" stroke-width="0.8"/>
<text x="422" y="668.62" font-size="8.1" fill="#cc3333">0.95</text>
<text x="422" y="676.65" font-size="8.1" fill="#cc3333">0.90</text>
<text x="422" y="684.68" font-size="8.1" fill="#cc3333">0.85</text>
<rect x="417.4" y="649.4" width="256.2" height="176.8" fill="none" stroke="#9a9a9a" stroke-width="1"/>
<line x1="443.2" y1="826.2" x2="443.2" y2="828.8" stroke="#555" stroke-width="0.8"/>
<text x="443.2" y="836.8" font-size="9.8" fill="#4d4d4d" text-anchor="middle">10</text>
<line x1="515.1" y1="826.2" x2="515.1" y2="828.8" stroke="#555" stroke-width="0.8"/>
<text x="515.1" y="836.8" font-size="9.8" fill="#4d4d4d" text-anchor="middle">20</text>
<line x1="587" y1="826.2" x2="587" y2="828.8" stroke="#555" stroke-width="0.8"/>
<text x="587" y="836.8" font-size="9.8" fill="#4d4d4d" text-anchor="middle">30</text>
<line x1="658.9" y1="826.2" x2="658.9" y2="828.8" stroke="#555" stroke-width="0.8"/>
<text x="658.9" y="836.8" font-size="9.8" fill="#4d4d4d" text-anchor="middle">40</text>
<line x1="414.8" y1="818.2" x2="417.4" y2="818.2" stroke="#555" stroke-width="0.8"/>
<text x="413.8" y="821.6" font-size="9.8" fill="#4d4d4d" text-anchor="end">0.00</text>
<line x1="414.8" y1="778.08" x2="417.4" y2="778.08" stroke="#555" stroke-width="0.8"/>
<text x="413.8" y="781.48" font-size="9.8" fill="#4d4d4d" text-anchor="end">0.25</text>
<line x1="414.8" y1="737.95" x2="417.4" y2="737.95" stroke="#555" stroke-width="0.8"/>
<text x="413.8" y="741.35" font-size="9.8" fill="#4d4d4d" text-anchor="end">0.50</text>
<line x1="414.8" y1="697.83" x2="417.4" y2="697.83" stroke="#555" stroke-width="0.8"/>
<text x="413.8" y="701.23" font-size="9.8" fill="#4d4d4d" text-anchor="end">0.75</text>
<line x1="414.8" y1="657.7" x2="417.4" y2="657.7" stroke="#555" stroke-width="0.8"/>
<text x="413.8" y="661.1" font-size="9.8" fill="#4d4d4d" text-anchor="end">1.00</text>
<text x="545.5" y="849.8" font-size="13" fill="#000" text-anchor="middle">SD of &#949;<tspan font-size="8.5" dy="2.5">1</tspan></text>
<text x="0" y="0" font-size="13.2" fill="#000" text-anchor="middle" transform="translate(391,737.8) rotate(-90)">Coverage Probability</text>
<line x1="421.0" y1="871.4" x2="429.0" y2="871.4" stroke="#000" stroke-width="0.7" stroke-dasharray="0.8 1.6"/>
<path d="M425.0,869.4 L427.1,872.9 L422.9,872.9 Z" fill="none" stroke="#000" stroke-width="0.6"/>
<text x="435" y="874.4" font-size="9.6" fill="#000">GAM</text>
<line x1="463.0" y1="871.4" x2="471.0" y2="871.4" stroke="#000" stroke-width="0.7" stroke-dasharray="2 1.2"/>
<circle cx="467.0" cy="871.4" r="1.6" fill="#fff" stroke="#000" stroke-width="0.6"/>
<text x="476.6" y="874.4" font-size="9.6" fill="#000">LM</text>
<line x1="496.0" y1="871.4" x2="504.0" y2="871.4" stroke="#000" stroke-width="0.7"/>
<path d="M498.4,869.8 L501.6,873.0 M501.6,869.8 L498.4,873.0" stroke="#000" stroke-width="0.6"/>
<text x="510.6" y="874.4" font-size="9.6" fill="#000">Proposed</text>
<line x1="566.5" y1="871.4" x2="575.5" y2="871.4" stroke="#F8766D" stroke-width="0.9" opacity="0.6"/>
<circle cx="571.0" cy="871.4" r="1.7" fill="#F8766D"/>
<text x="580.6" y="874.4" font-size="9.6" fill="#000">CDE</text>
<line x1="605.5" y1="871.4" x2="614.5" y2="871.4" stroke="#00BA38" stroke-width="0.9" opacity="0.6"/>
<circle cx="610.0" cy="871.4" r="1.7" fill="#00BA38"/>
<text x="619.4" y="874.4" font-size="9.6" fill="#000">NDE</text>
<line x1="644.5" y1="871.4" x2="653.5" y2="871.4" stroke="#619CFF" stroke-width="0.9" opacity="0.6"/>
<circle cx="649.0" cy="871.4" r="1.7" fill="#619CFF"/>
<text x="658.6" y="874.4" font-size="9.6" fill="#000">NIE</text>
</g>
<text x="8.40" y="277.00" font-size="17.5" fill="#000" stroke="#000" stroke-width="0.1" textLength="20.22" lengthAdjust="spacingAndGlyphs">(a)</text>
<text x="37.60" y="277.00" font-size="17.5" fill="#000" stroke="#000" stroke-width="0.1" textLength="56.37" lengthAdjust="spacingAndGlyphs">Pattern</text>
<text x="97.60" y="277.00" font-size="17.5" fill="#000" stroke="#000" stroke-width="0.1" textLength="17.42" lengthAdjust="spacingAndGlyphs">1:</text>
<text x="128.00" y="277.00" font-size="17.5" fill="#000" stroke="#000" stroke-width="0.0" textLength="5.91" lengthAdjust="spacingAndGlyphs" font-style="italic">f</text>
<text x="133.91" y="279.70" font-size="12.3" fill="#000" stroke="#000" stroke-width="0.14" textLength="7.47" lengthAdjust="spacingAndGlyphs">1</text>
<text x="141.37" y="277.00" font-size="17.5" fill="#000" stroke="#000" stroke-width="0.1" textLength="7.08" lengthAdjust="spacingAndGlyphs">(</text>
<text x="148.45" y="277.00" font-size="17.5" fill="#000" stroke="#000" stroke-width="0.0" textLength="17.70" lengthAdjust="spacingAndGlyphs" font-style="italic">M</text>
<text x="166.16" y="277.00" font-size="17.5" fill="#000" stroke="#000" stroke-width="0.1" textLength="7.08" lengthAdjust="spacingAndGlyphs">)</text>
<text x="183.00" y="278.30" font-size="21" fill="#000" stroke="#000" stroke-width="0.1" textLength="12.25" lengthAdjust="spacingAndGlyphs">=</text>
<text x="206.50" y="269.20" font-size="12.3" fill="#000" stroke="#000" stroke-width="0.14" textLength="22.65" lengthAdjust="spacingAndGlyphs">−6(</text>
<text x="229.15" y="269.20" font-size="12.3" fill="#000" stroke="#000" stroke-width="0.14" textLength="13.50" lengthAdjust="spacingAndGlyphs" font-style="italic">M</text>
<text x="242.65" y="269.20" font-size="12.3" fill="#000" stroke="#000" stroke-width="0.14" textLength="35.25" lengthAdjust="spacingAndGlyphs">−5/3)</text>
<text x="277.90" y="265.20" font-size="8.8" fill="#000" stroke="#000" stroke-width="0.14" textLength="5.80" lengthAdjust="spacingAndGlyphs">2</text>
<rect x="205.50" y="271.73" width="79.10" height="0.75" fill="#000"/>
<text x="242.30" y="283.00" font-size="12.3" fill="#000" stroke="#000" stroke-width="0.14" textLength="5.85" lengthAdjust="spacingAndGlyphs">5</text>
<text x="292.30" y="278.30" font-size="21" fill="#000" stroke="#000" stroke-width="0.1" textLength="12.45" lengthAdjust="spacingAndGlyphs">+</text>
<text x="8.40" y="303.00" font-size="17.5" fill="#000" stroke="#000" stroke-width="0.1" textLength="23.56" lengthAdjust="spacingAndGlyphs">100</text>
<text x="40.00" y="303.00" font-size="17.5" fill="#000" stroke="#000" stroke-width="0.1" textLength="24.97" lengthAdjust="spacingAndGlyphs">and</text>
<text x="69.00" y="303.00" font-size="17.5" fill="#000" stroke="#000" stroke-width="0.0" textLength="6.66" lengthAdjust="spacingAndGlyphs" font-style="italic">f</text>
<text x="75.66" y="305.70" font-size="12.3" fill="#000" stroke="#000" stroke-width="0.14" textLength="8.43" lengthAdjust="spacingAndGlyphs">2</text>
<text x="84.09" y="303.00" font-size="17.5" fill="#000" stroke="#000" stroke-width="0.1" textLength="7.99" lengthAdjust="spacingAndGlyphs">(</text>
<text x="92.08" y="303.00" font-size="17.5" fill="#000" stroke="#000" stroke-width="0.0" textLength="19.98" lengthAdjust="spacingAndGlyphs" font-style="italic">M</text>
<text x="112.05" y="303.00" font-size="17.5" fill="#000" stroke="#000" stroke-width="0.1" textLength="7.99" lengthAdjust="spacingAndGlyphs">)</text>
<text x="126.60" y="304.30" font-size="21" fill="#000" stroke="#000" stroke-width="0.1" textLength="12.45" lengthAdjust="spacingAndGlyphs">=</text>
<text x="148.00" y="295.80" font-size="12.3" fill="#000" stroke="#000" stroke-width="0.14" textLength="16.61" lengthAdjust="spacingAndGlyphs">50</text>
<text x="164.61" y="295.80" font-size="12.3" fill="#000" stroke="#000" stroke-width="0.14" textLength="7.37" lengthAdjust="spacingAndGlyphs" font-style="italic">e</text>
<text x="171.98" y="291.30" font-size="8.8" fill="#000" stroke="#000" stroke-width="0.14" textLength="5.94" lengthAdjust="spacingAndGlyphs">6</text>
<text x="177.92" y="291.30" font-size="8.8" fill="#000" stroke="#000" stroke-width="0.14" textLength="9.90" lengthAdjust="spacingAndGlyphs" font-style="italic">M</text>
<text x="187.82" y="291.30" font-size="8.8" fill="#000" stroke="#000" stroke-width="0.14" textLength="9.24" lengthAdjust="spacingAndGlyphs">/5</text>
<rect x="146.10" y="298.23" width="53.60" height="0.75" fill="#000"/>
<text x="146.70" y="308.70" font-size="12.3" fill="#000" stroke="#000" stroke-width="0.14" textLength="17.93" lengthAdjust="spacingAndGlyphs">2+</text>
<text x="164.63" y="308.70" font-size="12.3" fill="#000" stroke="#000" stroke-width="0.14" textLength="7.48" lengthAdjust="spacingAndGlyphs" font-style="italic">e</text>
<text x="172.11" y="305.20" font-size="8.8" fill="#000" stroke="#000" stroke-width="0.14" textLength="6.03" lengthAdjust="spacingAndGlyphs">6</text>
<text x="178.14" y="305.20" font-size="8.8" fill="#000" stroke="#000" stroke-width="0.14" textLength="10.04" lengthAdjust="spacingAndGlyphs" font-style="italic">M</text>
<text x="188.18" y="305.20" font-size="8.8" fill="#000" stroke="#000" stroke-width="0.14" textLength="9.38" lengthAdjust="spacingAndGlyphs">/5</text>
<text x="206.20" y="304.30" font-size="21" fill="#000" stroke="#000" stroke-width="0.1" textLength="11.74" lengthAdjust="spacingAndGlyphs">+</text>
<text x="222.70" y="303.00" font-size="17.5" fill="#000" stroke="#000" stroke-width="0.1" textLength="15.60" lengthAdjust="spacingAndGlyphs">50</text>
<text x="380.00" y="273.00" font-size="17.5" fill="#000" stroke="#000" stroke-width="0.1" textLength="21.71" lengthAdjust="spacingAndGlyphs">(b)</text>
<text x="407.80" y="273.00" font-size="17.5" fill="#000" stroke="#000" stroke-width="0.1" textLength="67.85" lengthAdjust="spacingAndGlyphs">Coverage</text>
<text x="481.30" y="273.00" font-size="17.5" fill="#000" stroke="#000" stroke-width="0.1" textLength="83.68" lengthAdjust="spacingAndGlyphs">Probability</text>
<text x="571.80" y="273.00" font-size="17.5" fill="#000" stroke="#000" stroke-width="0.1" textLength="42.75" lengthAdjust="spacingAndGlyphs">under</text>
<text x="619.50" y="273.00" font-size="17.5" fill="#000" stroke="#000" stroke-width="0.1" textLength="57.07" lengthAdjust="spacingAndGlyphs">Pattern</text>
<text x="380.40" y="294.70" font-size="17.5" fill="#000" stroke="#000" stroke-width="0.1" textLength="6.46" lengthAdjust="spacingAndGlyphs">1</text>
<text x="1.30" y="600.70" font-size="17.5" fill="#000" stroke="#000" stroke-width="0.1" textLength="19.32" lengthAdjust="spacingAndGlyphs">(c)</text>
<text x="27.00" y="600.70" font-size="17.5" fill="#000" stroke="#000" stroke-width="0.1" textLength="56.47" lengthAdjust="spacingAndGlyphs">Pattern</text>
<text x="89.60" y="600.70" font-size="17.5" fill="#000" stroke="#000" stroke-width="0.1" textLength="12.41" lengthAdjust="spacingAndGlyphs">2:</text>
<text x="111.60" y="600.70" font-size="17.5" fill="#000" stroke="#000" stroke-width="0.0" textLength="6.00" lengthAdjust="spacingAndGlyphs" font-style="italic">f</text>
<text x="117.60" y="603.40" font-size="12.3" fill="#000" stroke="#000" stroke-width="0.14" textLength="7.58" lengthAdjust="spacingAndGlyphs">1</text>
<text x="125.18" y="600.70" font-size="17.5" fill="#000" stroke="#000" stroke-width="0.1" textLength="7.19" lengthAdjust="spacingAndGlyphs">(</text>
<text x="132.37" y="600.70" font-size="17.5" fill="#000" stroke="#000" stroke-width="0.0" textLength="17.98" lengthAdjust="spacingAndGlyphs" font-style="italic">M</text>
<text x="150.35" y="600.70" font-size="17.5" fill="#000" stroke="#000" stroke-width="0.1" textLength="7.19" lengthAdjust="spacingAndGlyphs">)</text>
<text x="164.20" y="602.00" font-size="21" fill="#000" stroke="#000" stroke-width="0.1" textLength="12.14" lengthAdjust="spacingAndGlyphs">=</text>
<text x="184.10" y="594.00" font-size="12.3" fill="#000" stroke="#000" stroke-width="0.14" textLength="9.30" lengthAdjust="spacingAndGlyphs">−</text>
<text x="193.40" y="594.00" font-size="12.3" fill="#000" stroke="#000" stroke-width="0.14" textLength="7.32" lengthAdjust="spacingAndGlyphs" font-style="italic">e</text>
<text x="200.72" y="589.50" font-size="8.8" fill="#000" stroke="#000" stroke-width="0.14" textLength="9.83" lengthAdjust="spacingAndGlyphs" font-style="italic">M</text>
<text x="210.54" y="594.00" font-size="12.3" fill="#000" stroke="#000" stroke-width="0.14" textLength="34.03" lengthAdjust="spacingAndGlyphs">−100</text>
<text x="244.57" y="594.00" font-size="12.3" fill="#000" stroke="#000" stroke-width="0.14" textLength="13.73" lengthAdjust="spacingAndGlyphs" font-style="italic">M</text>
<text x="258.30" y="590.00" font-size="8.8" fill="#000" stroke="#000" stroke-width="0.14" textLength="5.90" lengthAdjust="spacingAndGlyphs">2</text>
<rect x="184.00" y="596.12" width="80.80" height="0.75" fill="#000"/>
<text x="217.80" y="606.60" font-size="12.3" fill="#000" stroke="#000" stroke-width="0.14" textLength="13.30" lengthAdjust="spacingAndGlyphs">50</text>
<text x="271.00" y="602.00" font-size="21" fill="#000" stroke="#000" stroke-width="0.1" textLength="11.24" lengthAdjust="spacingAndGlyphs">+</text>
<text x="287.30" y="600.70" font-size="17.5" fill="#000" stroke="#000" stroke-width="0.1" textLength="25.05" lengthAdjust="spacingAndGlyphs">100</text>
<text x="0.80" y="627.70" font-size="17.5" fill="#000" stroke="#000" stroke-width="0.1" textLength="26.17" lengthAdjust="spacingAndGlyphs">and</text>
<text x="34.00" y="627.70" font-size="17.5" fill="#000" stroke="#000" stroke-width="0.0" textLength="6.05" lengthAdjust="spacingAndGlyphs" font-style="italic">f</text>
<text x="40.05" y="630.40" font-size="12.3" fill="#000" stroke="#000" stroke-width="0.14" textLength="7.65" lengthAdjust="spacingAndGlyphs">2</text>
<text x="47.70" y="627.70" font-size="17.5" fill="#000" stroke="#000" stroke-width="0.1" textLength="7.25" lengthAdjust="spacingAndGlyphs">(</text>
<text x="54.95" y="627.70" font-size="17.5" fill="#000" stroke="#000" stroke-width="0.0" textLength="18.14" lengthAdjust="spacingAndGlyphs" font-style="italic">M</text>
<text x="73.08" y="627.70" font-size="17.5" fill="#000" stroke="#000" stroke-width="0.1" textLength="7.25" lengthAdjust="spacingAndGlyphs">)</text>
<text x="86.70" y="629.00" font-size="21" fill="#000" stroke="#000" stroke-width="0.1" textLength="12.14" lengthAdjust="spacingAndGlyphs">=</text>
<text x="107.20" y="618.10" font-size="12.3" fill="#000" stroke="#000" stroke-width="0.14" textLength="22.85" lengthAdjust="spacingAndGlyphs">−6(</text>
<text x="130.05" y="618.10" font-size="12.3" fill="#000" stroke="#000" stroke-width="0.14" textLength="13.62" lengthAdjust="spacingAndGlyphs" font-style="italic">M</text>
<text x="143.68" y="618.10" font-size="12.3" fill="#000" stroke="#000" stroke-width="0.14" textLength="35.57" lengthAdjust="spacingAndGlyphs">+5/3)</text>
<text x="179.25" y="614.10" font-size="8.8" fill="#000" stroke="#000" stroke-width="0.14" textLength="5.85" lengthAdjust="spacingAndGlyphs">2</text>
<rect x="107.00" y="622.92" width="79.50" height="0.75" fill="#000"/>
<text x="143.40" y="632.40" font-size="12.3" fill="#000" stroke="#000" stroke-width="0.14" textLength="6.05" lengthAdjust="spacingAndGlyphs">5</text>
<text x="193.30" y="629.00" font-size="21" fill="#000" stroke="#000" stroke-width="0.1" textLength="11.74" lengthAdjust="spacingAndGlyphs">+</text>
<text x="210.20" y="627.70" font-size="17.5" fill="#000" stroke="#000" stroke-width="0.1" textLength="24.95" lengthAdjust="spacingAndGlyphs">100</text>
<text x="387.60" y="598.80" font-size="17.5" fill="#000" stroke="#000" stroke-width="0.1" textLength="21.41" lengthAdjust="spacingAndGlyphs">(d)</text>
<text x="415.60" y="598.80" font-size="17.5" fill="#000" stroke="#000" stroke-width="0.1" textLength="67.65" lengthAdjust="spacingAndGlyphs">Coverage</text>
<text x="489.50" y="598.80" font-size="17.5" fill="#000" stroke="#000" stroke-width="0.1" textLength="84.18" lengthAdjust="spacingAndGlyphs">Probability</text>
<text x="580.40" y="598.80" font-size="17.5" fill="#000" stroke="#000" stroke-width="0.1" textLength="42.75" lengthAdjust="spacingAndGlyphs">under</text>
<text x="629.30" y="598.80" font-size="17.5" fill="#000" stroke="#000" stroke-width="0.1" textLength="53.49" lengthAdjust="spacingAndGlyphs">pattern</text>
<text x="387.70" y="619.70" font-size="17.5" fill="#000" stroke="#000" stroke-width="0.1" textLength="7.86" lengthAdjust="spacingAndGlyphs">2</text>
<text x="8.00" y="911.40" font-size="17.5" fill="#000" stroke="#000" stroke-width="0.1" textLength="19.32" lengthAdjust="spacingAndGlyphs">(e)</text>
<text x="36.90" y="911.40" font-size="17.5" fill="#000" stroke="#000" stroke-width="0.1" textLength="56.57" lengthAdjust="spacingAndGlyphs">Pattern</text>
<text x="102.70" y="911.40" font-size="17.5" fill="#000" stroke="#000" stroke-width="0.1" textLength="12.41" lengthAdjust="spacingAndGlyphs">3:</text>
<text x="128.70" y="911.40" font-size="17.5" fill="#000" stroke="#000" stroke-width="0.0" textLength="5.98" lengthAdjust="spacingAndGlyphs" font-style="italic">f</text>
<text x="134.68" y="914.10" font-size="12.3" fill="#000" stroke="#000" stroke-width="0.14" textLength="7.57" lengthAdjust="spacingAndGlyphs">1</text>
<text x="142.25" y="911.40" font-size="17.5" fill="#000" stroke="#000" stroke-width="0.1" textLength="7.17" lengthAdjust="spacingAndGlyphs">(</text>
<text x="149.42" y="911.40" font-size="17.5" fill="#000" stroke="#000" stroke-width="0.0" textLength="17.94" lengthAdjust="spacingAndGlyphs" font-style="italic">M</text>
<text x="167.36" y="911.40" font-size="17.5" fill="#000" stroke="#000" stroke-width="0.1" textLength="7.17" lengthAdjust="spacingAndGlyphs">)</text>
<text x="185.00" y="912.70" font-size="21" fill="#000" stroke="#000" stroke-width="0.1" textLength="12.55" lengthAdjust="spacingAndGlyphs">=</text>
<text x="209.10" y="904.80" font-size="12.3" fill="#000" stroke="#000" stroke-width="0.14" textLength="16.98" lengthAdjust="spacingAndGlyphs">50</text>
<text x="226.08" y="904.80" font-size="12.3" fill="#000" stroke="#000" stroke-width="0.14" textLength="7.54" lengthAdjust="spacingAndGlyphs" font-style="italic">e</text>
<text x="233.62" y="900.30" font-size="8.8" fill="#000" stroke="#000" stroke-width="0.14" textLength="6.07" lengthAdjust="spacingAndGlyphs">6</text>
<text x="239.69" y="900.30" font-size="8.8" fill="#000" stroke="#000" stroke-width="0.14" textLength="10.12" lengthAdjust="spacingAndGlyphs" font-style="italic">M</text>
<text x="249.81" y="900.30" font-size="8.8" fill="#000" stroke="#000" stroke-width="0.14" textLength="9.45" lengthAdjust="spacingAndGlyphs">/5</text>
<rect x="208.20" y="906.92" width="53.40" height="0.75" fill="#000"/>
<text x="208.60" y="919.20" font-size="12.3" fill="#000" stroke="#000" stroke-width="0.14" textLength="17.86" lengthAdjust="spacingAndGlyphs">2+</text>
<text x="226.46" y="919.20" font-size="12.3" fill="#000" stroke="#000" stroke-width="0.14" textLength="7.45" lengthAdjust="spacingAndGlyphs" font-style="italic">e</text>
<text x="233.91" y="915.70" font-size="8.8" fill="#000" stroke="#000" stroke-width="0.14" textLength="6.00" lengthAdjust="spacingAndGlyphs">6</text>
<text x="239.92" y="915.70" font-size="8.8" fill="#000" stroke="#000" stroke-width="0.14" textLength="10.00" lengthAdjust="spacingAndGlyphs" font-style="italic">M</text>
<text x="249.92" y="915.70" font-size="8.8" fill="#000" stroke="#000" stroke-width="0.14" textLength="9.34" lengthAdjust="spacingAndGlyphs">/5</text>
<text x="270.20" y="912.70" font-size="21" fill="#000" stroke="#000" stroke-width="0.1" textLength="11.54" lengthAdjust="spacingAndGlyphs">+</text>
<text x="288.10" y="911.40" font-size="17.5" fill="#000" stroke="#000" stroke-width="0.1" textLength="16.70" lengthAdjust="spacingAndGlyphs">50</text>
<text x="8.00" y="937.90" font-size="17.5" fill="#000" stroke="#000" stroke-width="0.1" textLength="26.47" lengthAdjust="spacingAndGlyphs">and</text>
<text x="41.40" y="937.90" font-size="17.5" fill="#000" stroke="#000" stroke-width="0.0" textLength="6.09" lengthAdjust="spacingAndGlyphs" font-style="italic">f</text>
<text x="47.49" y="940.60" font-size="12.3" fill="#000" stroke="#000" stroke-width="0.14" textLength="7.70" lengthAdjust="spacingAndGlyphs">2</text>
<text x="55.19" y="937.90" font-size="17.5" fill="#000" stroke="#000" stroke-width="0.1" textLength="7.30" lengthAdjust="spacingAndGlyphs">(</text>
<text x="62.49" y="937.90" font-size="17.5" fill="#000" stroke="#000" stroke-width="0.0" textLength="18.25" lengthAdjust="spacingAndGlyphs" font-style="italic">M</text>
<text x="80.74" y="937.90" font-size="17.5" fill="#000" stroke="#000" stroke-width="0.1" textLength="7.30" lengthAdjust="spacingAndGlyphs">)</text>
<text x="94.00" y="939.20" font-size="21" fill="#000" stroke="#000" stroke-width="0.1" textLength="12.25" lengthAdjust="spacingAndGlyphs">=</text>
<text x="112.30" y="937.90" font-size="17.5" fill="#000" stroke="#000" stroke-width="0.1" textLength="27.13" lengthAdjust="spacingAndGlyphs">300</text>
<text x="139.43" y="937.90" font-size="17.5" fill="#000" stroke="#000" stroke-width="0.1" textLength="14.07" lengthAdjust="spacingAndGlyphs">ln</text>
<text x="153.50" y="937.90" font-size="17.5" fill="#000" stroke="#000" stroke-width="0.1" textLength="6.02" lengthAdjust="spacingAndGlyphs">(</text>
<text x="160.80" y="937.90" font-size="17.5" fill="#000" stroke="#000" stroke-width="0.1" textLength="12.16" lengthAdjust="spacingAndGlyphs">−</text>
<text x="172.96" y="937.90" font-size="17.5" fill="#000" stroke="#000" stroke-width="0.0" textLength="9.57" lengthAdjust="spacingAndGlyphs" font-style="italic">e</text>
<text x="182.54" y="930.90" font-size="12.3" fill="#000" stroke="#000" stroke-width="0.14" textLength="12.63" lengthAdjust="spacingAndGlyphs" font-style="italic">M</text>
<text x="195.17" y="930.90" font-size="12.3" fill="#000" stroke="#000" stroke-width="0.14" textLength="11.79" lengthAdjust="spacingAndGlyphs">/2</text>
<text x="212.30" y="939.20" font-size="21" fill="#000" stroke="#000" stroke-width="0.1" textLength="11.64" lengthAdjust="spacingAndGlyphs">+</text>
<text x="229.07" y="937.90" font-size="17.5" fill="#000" stroke="#000" stroke-width="0.0" textLength="17.92" lengthAdjust="spacingAndGlyphs" font-style="italic">M</text>
<text x="250.40" y="939.20" font-size="21" fill="#000" stroke="#000" stroke-width="0.1" textLength="11.24" lengthAdjust="spacingAndGlyphs">+</text>
<text x="265.70" y="937.90" font-size="17.5" fill="#000" stroke="#000" stroke-width="0.1" textLength="22.43" lengthAdjust="spacingAndGlyphs">40)</text>
<text x="293.00" y="939.20" font-size="21" fill="#000" stroke="#000" stroke-width="0.1" textLength="11.24" lengthAdjust="spacingAndGlyphs">−</text>
<text x="8.40" y="959.00" font-size="17.5" fill="#000" stroke="#000" stroke-width="0.1" textLength="33.70" lengthAdjust="spacingAndGlyphs">1000</text>
<text x="380.40" y="908.80" font-size="17.5" fill="#000" stroke="#000" stroke-width="0.1" textLength="19.48" lengthAdjust="spacingAndGlyphs">(f)</text>
<text x="405.80" y="908.80" font-size="17.5" fill="#000" stroke="#000" stroke-width="0.1" textLength="69.65" lengthAdjust="spacingAndGlyphs">Coverage</text>
<text x="480.40" y="908.80" font-size="17.5" fill="#000" stroke="#000" stroke-width="0.1" textLength="85.98" lengthAdjust="spacingAndGlyphs">Probability</text>
<text x="572.70" y="908.80" font-size="17.5" fill="#000" stroke="#000" stroke-width="0.1" textLength="42.15" lengthAdjust="spacingAndGlyphs">under</text>
<text x="621.60" y="908.80" font-size="17.5" fill="#000" stroke="#000" stroke-width="0.1" textLength="54.29" lengthAdjust="spacingAndGlyphs">pattern</text>
<text x="380.40" y="930.10" font-size="17.5" fill="#000" stroke="#000" stroke-width="0.1" textLength="7.06" lengthAdjust="spacingAndGlyphs">3</text>
</svg>
</body></html>
